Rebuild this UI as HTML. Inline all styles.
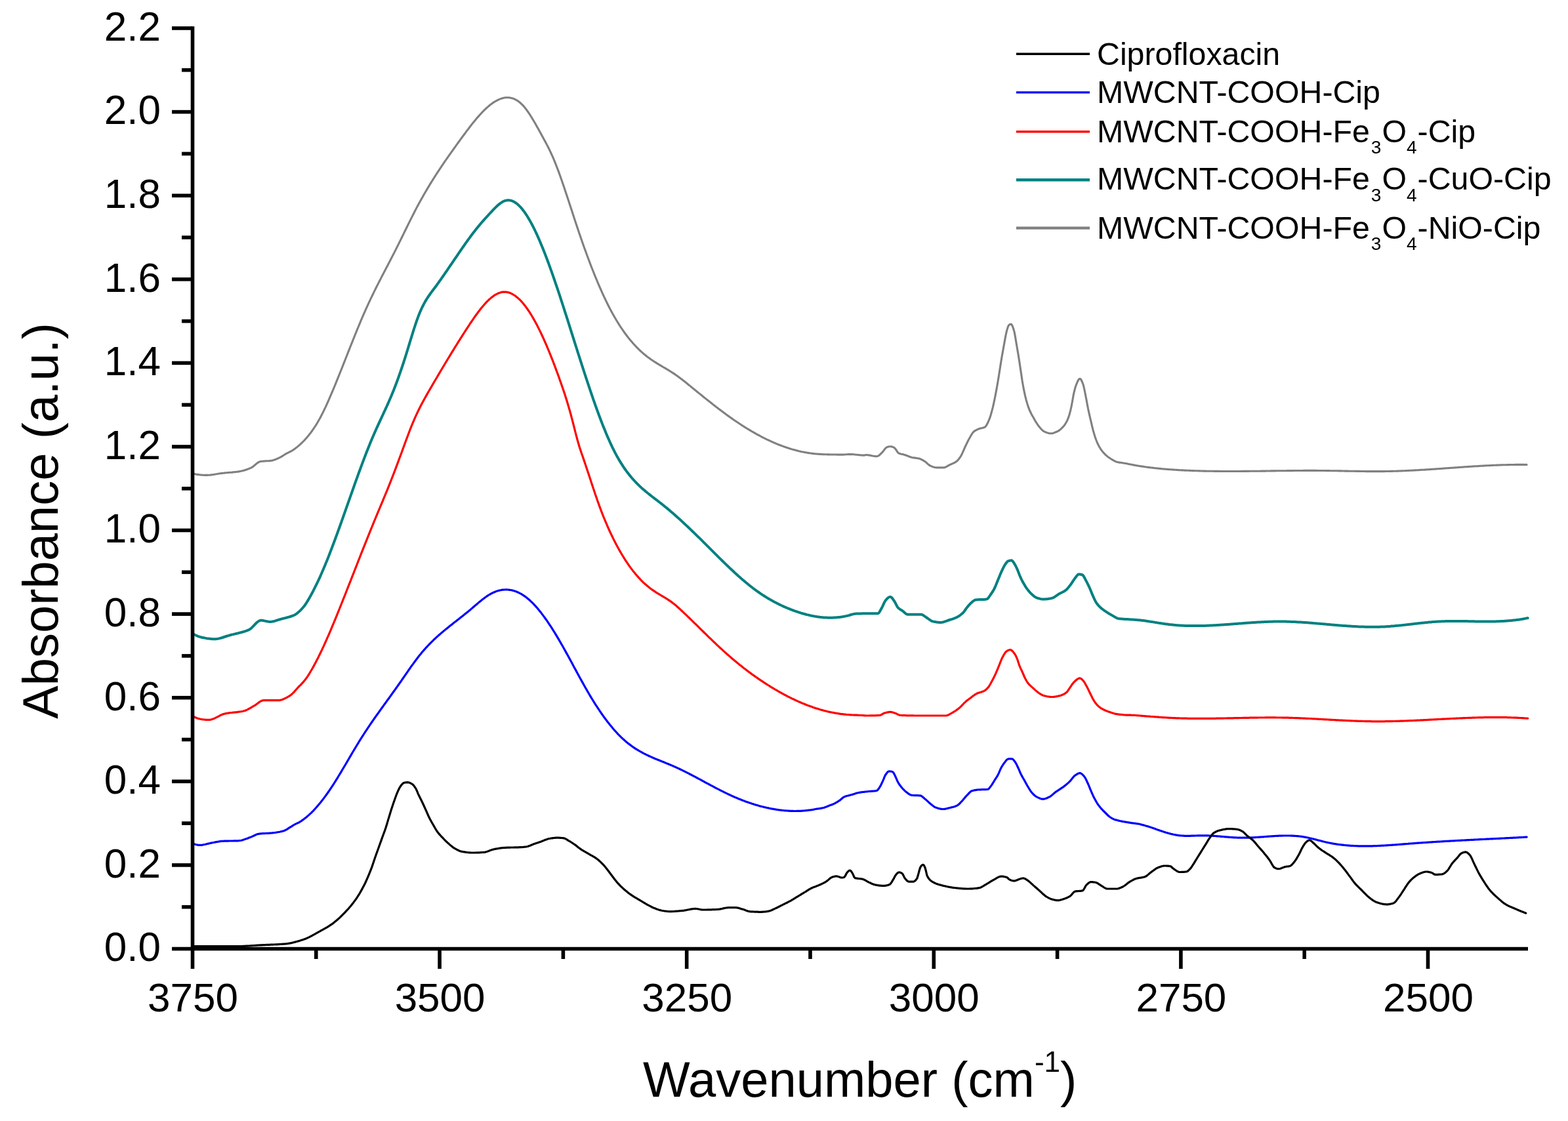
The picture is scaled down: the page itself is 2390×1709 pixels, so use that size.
<!DOCTYPE html>
<html><head><meta charset="utf-8"><title>FTIR spectra</title>
<style>
html,body{margin:0;padding:0;background:#fff;}
svg{display:block;}
text{font-family:'Liberation Sans', Arial, Helvetica, sans-serif;fill:#000;}
</style></head><body>
<svg width="2390" height="1709" viewBox="0 0 2390 1709">
<rect width="2390" height="1709" fill="#fff"/>
<g fill="none" stroke-linejoin="round" stroke-linecap="round">
<path d="M293.7,722.0L295.2,722.3 296.7,722.6 298.2,722.9 299.7,723.2 301.2,723.4 302.7,723.6 304.2,723.8 305.7,724.0 307.2,724.1 308.7,724.2 310.2,724.3 311.7,724.4 313.2,724.4 314.7,724.4 316.2,724.4 317.7,724.3 319.2,724.2 320.7,724.1 322.2,723.9 323.7,723.7 325.2,723.5 326.7,723.2 328.2,723.0 329.7,722.7 331.2,722.5 332.7,722.2 334.2,722.0 335.7,721.8 337.2,721.6 338.7,721.4 340.2,721.2 341.7,721.1 343.2,720.9 344.7,720.8 346.2,720.7 347.7,720.5 349.2,720.4 350.7,720.3 352.2,720.2 353.7,720.1 355.2,719.9 356.7,719.8 358.2,719.6 359.7,719.5 361.2,719.3 362.7,719.1 364.2,718.9 365.7,718.6 367.2,718.3 368.7,718.0 370.2,717.6 371.7,717.2 373.2,716.7 374.7,716.2 376.2,715.7 377.7,715.2 379.2,714.6 380.7,714.0 382.2,713.4 383.7,712.6 385.2,711.7 386.7,710.5 388.2,709.2 389.7,708.0 391.2,706.7 392.7,705.6 394.2,704.6 395.7,703.9 397.2,703.5 398.7,703.3 400.2,703.2 401.7,703.1 403.2,703.0 404.7,702.9 406.2,702.8 407.7,702.8 409.2,702.7 410.7,702.6 412.2,702.4 413.7,702.2 415.2,701.9 416.7,701.5 418.2,701.1 419.7,700.5 421.2,699.9 422.7,699.2 424.2,698.6 425.7,697.9 427.2,697.2 428.7,696.3 430.2,695.4 431.7,694.5 433.2,693.5 434.7,692.5 436.2,691.6 437.7,690.8 439.2,690.1 440.7,689.4 442.2,688.6 443.7,687.9 445.2,687.0 446.7,686.1 448.2,685.0 449.7,683.9 451.2,682.8 452.7,681.6 454.2,680.4 455.7,679.1 457.2,677.8 458.7,676.4 460.2,675.0 461.7,673.5 463.2,672.0 464.7,670.4 466.2,668.7 467.7,667.0 469.2,665.3 470.7,663.4 472.2,661.5 473.7,659.6 475.2,657.5 476.7,655.4 478.2,653.2 479.7,651.0 481.2,648.7 482.7,646.2 484.2,643.7 485.7,641.1 487.2,638.5 488.7,635.7 490.2,632.8 491.7,629.9 493.2,626.9 494.7,623.7 496.2,620.6 497.7,617.3 499.2,614.0 500.7,610.6 502.2,607.2 503.7,603.7 505.2,600.2 506.7,596.6 508.2,593.1 509.7,589.5 511.2,585.8 512.7,582.1 514.2,578.4 515.7,574.7 517.2,571.0 518.7,567.2 520.2,563.5 521.7,559.7 523.2,555.9 524.7,552.1 526.2,548.3 527.7,544.5 529.2,540.7 530.7,536.9 532.2,533.1 533.7,529.3 535.2,525.5 536.7,521.8 538.2,518.0 539.7,514.3 541.2,510.5 542.7,506.8 544.2,503.1 545.7,499.5 547.2,495.9 548.7,492.3 550.2,488.7 551.7,485.2 553.2,481.7 554.7,478.2 556.2,474.8 557.7,471.4 559.2,468.1 560.7,464.8 562.2,461.6 563.7,458.4 565.2,455.2 566.7,452.1 568.2,449.0 569.7,445.9 571.2,442.9 572.7,439.8 574.2,436.8 575.7,433.9 577.2,430.9 578.7,428.0 580.2,425.1 581.7,422.1 583.2,419.3 584.7,416.4 586.2,413.5 587.7,410.6 589.2,407.7 590.7,404.9 592.2,402.0 593.7,399.1 595.2,396.2 596.7,393.3 598.2,390.4 599.7,387.5 601.2,384.6 602.7,381.6 604.2,378.6 605.7,375.6 607.2,372.6 608.7,369.6 610.2,366.6 611.7,363.5 613.2,360.5 614.7,357.4 616.2,354.4 617.7,351.3 619.2,348.2 620.7,345.2 622.2,342.1 623.7,339.1 625.2,336.1 626.7,333.1 628.2,330.1 629.7,327.2 631.2,324.2 632.7,321.3 634.2,318.4 635.7,315.6 637.2,312.8 638.7,310.0 640.2,307.3 641.7,304.6 643.2,301.9 644.7,299.2 646.2,296.6 647.7,294.0 649.2,291.4 650.7,288.9 652.2,286.4 653.7,283.9 655.2,281.4 656.7,278.9 658.2,276.5 659.7,274.1 661.2,271.7 662.7,269.4 664.2,267.0 665.7,264.7 667.2,262.4 668.7,260.1 670.2,257.8 671.7,255.6 673.2,253.3 674.7,251.1 676.2,248.9 677.7,246.7 679.2,244.5 680.7,242.4 682.2,240.2 683.7,238.1 685.2,235.9 686.7,233.8 688.2,231.7 689.7,229.6 691.2,227.5 692.7,225.4 694.2,223.3 695.7,221.2 697.2,219.1 698.7,217.0 700.2,215.0 701.7,212.9 703.2,210.8 704.7,208.8 706.2,206.7 707.7,204.7 709.2,202.7 710.7,200.6 712.2,198.6 713.7,196.7 715.2,194.7 716.7,192.7 718.2,190.8 719.7,188.9 721.2,187.0 722.7,185.2 724.2,183.4 725.7,181.6 727.2,179.8 728.7,178.1 730.2,176.4 731.7,174.7 733.2,173.1 734.7,171.5 736.2,169.9 737.7,168.4 739.2,166.9 740.7,165.5 742.2,164.1 743.7,162.8 745.2,161.5 746.7,160.3 748.2,159.1 749.7,158.0 751.2,156.9 752.7,155.9 754.2,155.0 755.7,154.1 757.2,153.3 758.7,152.5 760.2,151.8 761.7,151.1 763.2,150.6 764.7,150.1 766.2,149.7 767.7,149.3 769.2,149.0 770.7,148.8 772.2,148.7 773.7,148.7 775.2,148.8 776.7,148.9 778.2,149.2 779.7,149.5 781.2,149.9 782.7,150.4 784.2,151.0 785.7,151.8 787.2,152.6 788.7,153.5 790.2,154.6 791.7,155.7 793.2,157.0 794.7,158.3 796.2,159.8 797.7,161.4 799.2,163.1 800.7,165.0 802.2,166.9 803.7,169.0 805.2,171.1 806.7,173.3 808.2,175.7 809.7,178.0 811.2,180.5 812.7,183.0 814.2,185.5 815.7,188.1 817.2,190.8 818.7,193.4 820.2,196.1 821.7,198.8 823.2,201.5 824.7,204.3 826.2,207.0 827.7,209.7 829.2,212.4 830.7,215.2 832.2,218.0 833.7,220.9 835.2,223.8 836.7,226.8 838.2,229.9 839.7,233.0 841.2,236.3 842.7,239.7 844.2,243.2 845.7,246.9 847.2,250.6 848.7,254.5 850.2,258.4 851.7,262.4 853.2,266.6 854.7,270.8 856.2,275.0 857.7,279.4 859.2,283.8 860.7,288.2 862.2,292.7 863.7,297.2 865.2,301.8 866.7,306.3 868.2,310.9 869.7,315.5 871.2,320.1 872.7,324.7 874.2,329.3 875.7,333.9 877.2,338.5 878.7,343.0 880.2,347.5 881.7,352.0 883.2,356.4 884.7,360.8 886.2,365.1 887.7,369.4 889.2,373.7 890.7,377.9 892.2,382.1 893.7,386.2 895.2,390.3 896.7,394.3 898.2,398.3 899.7,402.3 901.2,406.2 902.7,410.0 904.2,413.8 905.7,417.6 907.2,421.3 908.7,424.9 910.2,428.5 911.7,432.1 913.2,435.6 914.7,439.0 916.2,442.4 917.7,445.8 919.2,449.1 920.7,452.3 922.2,455.5 923.7,458.6 925.2,461.7 926.7,464.7 928.2,467.7 929.7,470.6 931.2,473.4 932.7,476.2 934.2,478.9 935.7,481.6 937.2,484.2 938.7,486.8 940.2,489.3 941.7,491.7 943.2,494.1 944.7,496.5 946.2,498.8 947.7,501.0 949.2,503.2 950.7,505.4 952.2,507.5 953.7,509.5 955.2,511.5 956.7,513.5 958.2,515.4 959.7,517.2 961.2,519.1 962.7,520.8 964.2,522.6 965.7,524.3 967.2,525.9 968.7,527.5 970.2,529.1 971.7,530.6 973.2,532.1 974.7,533.6 976.2,535.0 977.7,536.4 979.2,537.7 980.7,539.0 982.2,540.3 983.7,541.5 985.2,542.7 986.7,543.9 988.2,545.0 989.7,546.1 991.2,547.2 992.7,548.2 994.2,549.2 995.7,550.2 997.2,551.2 998.7,552.2 1000.2,553.1 1001.7,554.1 1003.2,555.0 1004.7,555.9 1006.2,556.8 1007.7,557.7 1009.2,558.6 1010.7,559.5 1012.2,560.3 1013.7,561.2 1015.2,562.1 1016.7,563.0 1018.2,563.9 1019.7,564.8 1021.2,565.8 1022.7,566.7 1024.2,567.7 1025.7,568.6 1027.2,569.6 1028.7,570.6 1030.2,571.7 1031.7,572.7 1033.2,573.8 1034.7,574.9 1036.2,576.0 1037.7,577.2 1039.2,578.3 1040.7,579.5 1042.2,580.6 1043.7,581.8 1045.2,583.0 1046.7,584.2 1048.2,585.5 1049.7,586.7 1051.2,587.9 1052.7,589.1 1054.2,590.3 1055.7,591.6 1057.2,592.8 1058.7,594.0 1060.2,595.2 1061.7,596.5 1063.2,597.7 1064.7,598.9 1066.2,600.1 1067.7,601.3 1069.2,602.5 1070.7,603.7 1072.2,605.0 1073.7,606.2 1075.2,607.4 1076.7,608.6 1078.2,609.8 1079.7,611.0 1081.2,612.1 1082.7,613.3 1084.2,614.5 1085.7,615.7 1087.2,616.9 1088.7,618.0 1090.2,619.2 1091.7,620.4 1093.2,621.5 1094.7,622.7 1096.2,623.8 1097.7,625.0 1099.2,626.1 1100.7,627.2 1102.2,628.3 1103.7,629.5 1105.2,630.6 1106.7,631.7 1108.2,632.8 1109.7,633.9 1111.2,634.9 1112.7,636.0 1114.2,637.1 1115.7,638.1 1117.2,639.2 1118.7,640.2 1120.2,641.3 1121.7,642.3 1123.2,643.3 1124.7,644.3 1126.2,645.3 1127.7,646.3 1129.2,647.3 1130.7,648.3 1132.2,649.2 1133.7,650.2 1135.2,651.1 1136.7,652.1 1138.2,653.0 1139.7,653.9 1141.2,654.8 1142.7,655.7 1144.2,656.6 1145.7,657.5 1147.2,658.4 1148.7,659.2 1150.2,660.1 1151.7,660.9 1153.2,661.8 1154.7,662.6 1156.2,663.4 1157.7,664.2 1159.2,665.0 1160.7,665.8 1162.2,666.6 1163.7,667.4 1165.2,668.1 1166.7,668.9 1168.2,669.6 1169.7,670.3 1171.2,671.0 1172.7,671.7 1174.2,672.4 1175.7,673.1 1177.2,673.8 1178.7,674.4 1180.2,675.1 1181.7,675.7 1183.2,676.4 1184.7,677.0 1186.2,677.6 1187.7,678.2 1189.2,678.8 1190.7,679.3 1192.2,679.9 1193.7,680.4 1195.2,681.0 1196.7,681.5 1198.2,682.0 1199.7,682.5 1201.2,683.0 1202.7,683.5 1204.2,684.0 1205.7,684.4 1207.2,684.9 1208.7,685.3 1210.2,685.7 1211.7,686.1 1213.2,686.5 1214.7,686.9 1216.2,687.3 1217.7,687.7 1219.2,688.0 1220.7,688.4 1222.2,688.7 1223.7,689.0 1225.2,689.3 1226.7,689.6 1228.2,689.8 1229.7,690.1 1231.2,690.4 1232.7,690.6 1234.2,690.8 1235.7,691.0 1237.2,691.2 1238.7,691.4 1240.2,691.6 1241.7,691.7 1243.2,691.9 1244.7,692.0 1246.2,692.1 1247.7,692.2 1249.2,692.4 1250.7,692.4 1252.2,692.5 1253.7,692.6 1255.2,692.7 1256.7,692.7 1258.2,692.8 1259.7,692.8 1261.2,692.9 1262.7,692.9 1264.2,692.9 1265.7,693.0 1267.2,693.0 1268.7,693.0 1270.2,693.0 1271.7,693.0 1273.2,693.0 1274.7,693.0 1276.2,693.1 1277.7,693.1 1279.2,693.1 1280.7,693.1 1282.2,693.1 1283.7,693.1 1285.2,693.1 1286.7,693.0 1288.2,693.0 1289.7,692.8 1291.2,692.7 1292.7,692.6 1294.2,692.6 1295.7,692.6 1297.2,692.6 1298.7,692.6 1300.2,692.7 1301.7,692.8 1303.2,693.0 1304.7,693.2 1306.2,693.3 1307.7,693.5 1309.2,693.6 1310.7,693.8 1312.2,693.9 1313.7,694.0 1315.2,694.1 1316.7,694.1 1318.2,694.0 1319.7,693.5 1321.2,693.5 1322.7,693.7 1324.2,693.9 1325.7,694.1 1327.2,694.4 1328.7,694.7 1330.2,695.0 1331.7,695.2 1333.2,695.5 1334.7,695.6 1336.2,695.7 1337.7,695.5 1339.2,694.7 1340.7,693.5 1342.2,692.1 1343.7,690.6 1345.2,689.1 1346.7,687.3 1348.2,685.2 1349.7,683.4 1351.2,682.1 1352.7,681.5 1354.2,681.1 1355.7,680.8 1357.2,680.7 1358.7,680.8 1360.2,681.3 1361.7,681.9 1363.2,682.7 1364.7,684.1 1366.2,686.4 1367.7,688.7 1369.2,690.5 1370.7,691.3 1372.2,691.8 1373.7,692.2 1375.2,692.5 1376.7,692.8 1378.2,693.2 1379.7,693.7 1381.2,694.2 1382.7,694.8 1384.2,695.4 1385.7,696.0 1387.2,696.5 1388.7,697.0 1390.2,697.4 1391.7,697.7 1393.2,697.9 1394.7,698.1 1396.2,698.3 1397.7,698.6 1399.2,698.8 1400.7,699.1 1402.2,699.5 1403.7,700.1 1405.2,700.8 1406.7,701.7 1408.2,702.6 1409.7,703.5 1411.2,704.6 1412.7,705.9 1414.2,707.3 1415.7,708.6 1417.2,709.6 1418.7,710.4 1420.2,711.0 1421.7,711.6 1423.2,712.1 1424.7,712.5 1426.2,712.8 1427.7,712.9 1429.2,712.9 1430.7,712.9 1432.2,712.9 1433.7,712.9 1435.2,712.9 1436.7,712.9 1438.2,712.9 1439.7,712.7 1441.2,712.2 1442.7,711.4 1444.2,710.6 1445.7,709.7 1447.2,708.9 1448.7,708.2 1450.2,707.5 1451.7,706.9 1453.2,706.2 1454.7,705.5 1456.2,704.6 1457.7,703.6 1459.2,702.4 1460.7,700.7 1462.2,698.8 1463.7,696.6 1465.2,694.2 1466.7,691.2 1468.2,687.8 1469.7,684.3 1471.2,681.0 1472.7,677.9 1474.2,674.8 1475.7,671.8 1477.2,668.9 1478.7,666.3 1480.2,663.7 1481.7,661.2 1483.2,659.1 1484.7,657.6 1486.2,656.6 1487.7,655.8 1489.2,655.0 1490.7,654.4 1492.2,653.8 1493.7,653.3 1495.2,652.9 1496.7,652.6 1498.2,652.2 1499.7,651.8 1501.2,651.1 1502.7,649.7 1504.2,647.4 1505.7,644.3 1507.2,640.9 1508.7,637.2 1510.2,632.5 1511.7,627.1 1513.2,621.3 1514.7,614.8 1516.2,607.7 1517.7,600.1 1519.2,592.1 1520.7,583.4 1522.2,574.5 1523.7,564.9 1525.2,555.3 1526.7,546.1 1528.2,537.5 1529.7,529.2 1531.2,520.9 1532.7,512.6 1534.2,505.6 1535.7,500.3 1537.2,496.3 1538.7,494.9 1540.2,494.2 1541.7,494.4 1543.2,497.0 1544.7,501.3 1546.2,506.4 1547.7,514.6 1549.2,523.8 1550.7,532.4 1552.2,541.3 1553.7,550.8 1555.2,560.7 1556.7,570.8 1558.2,580.9 1559.7,589.6 1561.2,597.1 1562.7,603.9 1564.2,609.8 1565.7,615.1 1567.2,619.9 1568.7,623.9 1570.2,627.3 1571.7,630.4 1573.2,633.2 1574.7,635.8 1576.2,638.5 1577.7,641.2 1579.2,643.7 1580.7,646.0 1582.2,648.2 1583.7,650.1 1585.2,652.0 1586.7,653.7 1588.2,655.3 1589.7,656.7 1591.2,657.7 1592.7,658.4 1594.2,659.0 1595.7,659.6 1597.2,660.1 1598.7,660.5 1600.2,660.7 1601.7,660.8 1603.2,660.7 1604.7,660.4 1606.2,660.0 1607.7,659.4 1609.2,658.8 1610.7,658.2 1612.2,657.5 1613.7,656.6 1615.2,655.6 1616.7,654.3 1618.2,652.9 1619.7,651.4 1621.2,649.7 1622.7,647.9 1624.2,645.6 1625.7,643.0 1627.2,639.9 1628.7,636.2 1630.2,631.4 1631.7,625.6 1633.2,619.0 1634.7,610.7 1636.2,602.2 1637.7,595.7 1639.2,590.0 1640.7,585.8 1642.2,582.3 1643.7,579.3 1645.2,577.5 1646.7,577.5 1648.2,579.5 1649.7,582.7 1651.2,586.7 1652.7,593.0 1654.2,600.5 1655.7,608.0 1657.2,616.2 1658.7,624.0 1660.2,630.9 1661.7,637.4 1663.2,643.6 1664.7,650.1 1666.2,656.2 1667.7,661.4 1669.2,666.2 1670.7,670.5 1672.2,674.3 1673.7,677.5 1675.2,680.4 1676.7,683.0 1678.2,685.3 1679.7,687.4 1681.2,689.3 1682.7,690.9 1684.2,692.5 1685.7,693.9 1687.2,695.2 1688.7,696.4 1690.2,697.5 1691.7,698.5 1693.2,699.5 1694.7,700.4 1696.2,701.3 1697.7,702.2 1699.2,703.0 1700.7,703.7 1702.2,704.2 1703.7,704.6 1705.2,704.9 1706.7,705.1 1708.2,705.3 1709.7,705.5 1711.2,705.7 1712.7,706.0 1714.2,706.2 1715.7,706.5 1717.2,706.8 1718.7,707.1 1720.2,707.4 1721.7,707.7 1723.2,708.0 1724.7,708.3 1726.2,708.6 1727.7,708.9 1729.2,709.1 1730.7,709.4 1732.2,709.7 1733.7,709.9 1735.2,710.2 1736.7,710.4 1738.2,710.7 1739.7,710.9 1741.2,711.1 1742.7,711.3 1744.2,711.6 1745.7,711.8 1747.2,712.0 1748.7,712.2 1750.2,712.4 1751.7,712.6 1753.2,712.8 1754.7,713.0 1756.2,713.1 1757.7,713.3 1759.2,713.5 1760.7,713.7 1762.2,713.8 1763.7,714.0 1765.2,714.1 1766.7,714.3 1768.2,714.4 1769.7,714.6 1771.2,714.7 1772.7,714.9 1774.2,715.0 1775.7,715.1 1777.2,715.3 1778.7,715.4 1780.2,715.5 1781.7,715.6 1783.2,715.7 1784.7,715.8 1786.2,715.9 1787.7,716.0 1789.2,716.1 1790.7,716.2 1792.2,716.3 1793.7,716.4 1795.2,716.5 1796.7,716.6 1798.2,716.7 1799.7,716.8 1801.2,716.9 1802.7,716.9 1804.2,717.0 1805.7,717.1 1807.2,717.1 1808.7,717.2 1810.2,717.3 1811.7,717.3 1813.2,717.4 1814.7,717.5 1816.2,717.5 1817.7,717.6 1819.2,717.6 1820.7,717.7 1822.2,717.7 1823.7,717.8 1825.2,717.8 1826.7,717.9 1828.2,717.9 1829.7,718.0 1831.2,718.0 1832.7,718.0 1834.2,718.1 1835.7,718.1 1837.2,718.1 1838.7,718.2 1840.2,718.2 1841.7,718.2 1843.2,718.3 1844.7,718.3 1846.2,718.3 1847.7,718.3 1849.2,718.3 1850.7,718.4 1852.2,718.4 1853.7,718.4 1855.2,718.4 1856.7,718.4 1858.2,718.4 1859.7,718.5 1861.2,718.5 1862.7,718.5 1864.2,718.5 1865.7,718.5 1867.2,718.5 1868.7,718.5 1870.2,718.5 1871.7,718.5 1873.2,718.5 1874.7,718.5 1876.2,718.5 1877.7,718.5 1879.2,718.5 1880.7,718.5 1882.2,718.5 1883.7,718.5 1885.2,718.5 1886.7,718.5 1888.2,718.5 1889.7,718.5 1891.2,718.5 1892.7,718.4 1894.2,718.4 1895.7,718.4 1897.2,718.4 1898.7,718.4 1900.2,718.4 1901.7,718.4 1903.2,718.4 1904.7,718.3 1906.2,718.3 1907.7,718.3 1909.2,718.3 1910.7,718.3 1912.2,718.3 1913.7,718.2 1915.2,718.2 1916.7,718.2 1918.2,718.2 1919.7,718.2 1921.2,718.2 1922.7,718.1 1924.2,718.1 1925.7,718.1 1927.2,718.1 1928.7,718.1 1930.2,718.0 1931.7,718.0 1933.2,718.0 1934.7,718.0 1936.2,718.0 1937.7,717.9 1939.2,717.9 1940.7,717.9 1942.2,717.9 1943.7,717.9 1945.2,717.8 1946.7,717.8 1948.2,717.8 1949.7,717.8 1951.2,717.8 1952.7,717.7 1954.2,717.7 1955.7,717.7 1957.2,717.7 1958.7,717.7 1960.2,717.7 1961.7,717.6 1963.2,717.6 1964.7,717.6 1966.2,717.6 1967.7,717.6 1969.2,717.6 1970.7,717.6 1972.2,717.5 1973.7,717.5 1975.2,717.5 1976.7,717.5 1978.2,717.5 1979.7,717.5 1981.2,717.5 1982.7,717.5 1984.2,717.5 1985.7,717.5 1987.2,717.4 1988.7,717.4 1990.2,717.4 1991.7,717.4 1993.2,717.4 1994.7,717.4 1996.2,717.4 1997.7,717.4 1999.2,717.4 2000.7,717.4 2002.2,717.4 2003.7,717.4 2005.2,717.4 2006.7,717.4 2008.2,717.5 2009.7,717.5 2011.2,717.5 2012.7,717.5 2014.2,717.5 2015.7,717.5 2017.2,717.5 2018.7,717.5 2020.2,717.6 2021.7,717.6 2023.2,717.6 2024.7,717.6 2026.2,717.6 2027.7,717.7 2029.2,717.7 2030.7,717.7 2032.2,717.7 2033.7,717.8 2035.2,717.8 2036.7,717.8 2038.2,717.8 2039.7,717.9 2041.2,717.9 2042.7,717.9 2044.2,717.9 2045.7,718.0 2047.2,718.0 2048.7,718.0 2050.2,718.1 2051.7,718.1 2053.2,718.1 2054.7,718.1 2056.2,718.2 2057.7,718.2 2059.2,718.2 2060.7,718.2 2062.2,718.3 2063.7,718.3 2065.2,718.3 2066.7,718.4 2068.2,718.4 2069.7,718.4 2071.2,718.4 2072.7,718.4 2074.2,718.5 2075.7,718.5 2077.2,718.5 2078.7,718.5 2080.2,718.5 2081.7,718.6 2083.2,718.6 2084.7,718.6 2086.2,718.6 2087.7,718.6 2089.2,718.6 2090.7,718.6 2092.2,718.6 2093.7,718.6 2095.2,718.6 2096.7,718.6 2098.2,718.6 2099.7,718.6 2101.2,718.6 2102.7,718.6 2104.2,718.6 2105.7,718.6 2107.2,718.6 2108.7,718.6 2110.2,718.6 2111.7,718.5 2113.2,718.5 2114.7,718.5 2116.2,718.5 2117.7,718.5 2119.2,718.4 2120.7,718.4 2122.2,718.4 2123.7,718.3 2125.2,718.3 2126.7,718.2 2128.2,718.2 2129.7,718.1 2131.2,718.1 2132.7,718.0 2134.2,718.0 2135.7,717.9 2137.2,717.9 2138.7,717.8 2140.2,717.7 2141.7,717.7 2143.2,717.6 2144.7,717.5 2146.2,717.5 2147.7,717.4 2149.2,717.3 2150.7,717.3 2152.2,717.2 2153.7,717.1 2155.2,717.0 2156.7,716.9 2158.2,716.9 2159.7,716.8 2161.2,716.7 2162.7,716.6 2164.2,716.5 2165.7,716.4 2167.2,716.3 2168.7,716.3 2170.2,716.2 2171.7,716.1 2173.2,716.0 2174.7,715.9 2176.2,715.8 2177.7,715.7 2179.2,715.6 2180.7,715.5 2182.2,715.4 2183.7,715.3 2185.2,715.2 2186.7,715.1 2188.2,715.0 2189.7,714.9 2191.2,714.8 2192.7,714.7 2194.2,714.6 2195.7,714.5 2197.2,714.4 2198.7,714.2 2200.2,714.1 2201.7,714.0 2203.2,713.9 2204.7,713.8 2206.2,713.7 2207.7,713.6 2209.2,713.5 2210.7,713.4 2212.2,713.3 2213.7,713.2 2215.2,713.1 2216.7,713.0 2218.2,712.9 2219.7,712.8 2221.2,712.7 2222.7,712.5 2224.2,712.4 2225.7,712.3 2227.2,712.2 2228.7,712.1 2230.2,712.0 2231.7,711.9 2233.2,711.8 2234.7,711.7 2236.2,711.6 2237.7,711.5 2239.2,711.4 2240.7,711.3 2242.2,711.2 2243.7,711.1 2245.2,711.0 2246.7,710.9 2248.2,710.8 2249.7,710.8 2251.2,710.7 2252.7,710.6 2254.2,710.5 2255.7,710.4 2257.2,710.3 2258.7,710.2 2260.2,710.1 2261.7,710.1 2263.2,710.0 2264.7,709.9 2266.2,709.8 2267.7,709.7 2269.2,709.7 2270.7,709.6 2272.2,709.5 2273.7,709.5 2275.2,709.4 2276.7,709.3 2278.2,709.3 2279.7,709.2 2281.2,709.1 2282.7,709.1 2284.2,709.0 2285.7,709.0 2287.2,708.9 2288.7,708.9 2290.2,708.8 2291.7,708.8 2293.2,708.7 2294.7,708.7 2296.2,708.7 2297.7,708.6 2299.2,708.6 2300.7,708.6 2302.2,708.5 2303.7,708.5 2305.2,708.5 2306.7,708.5 2308.2,708.5 2309.7,708.4 2311.2,708.4 2312.7,708.4 2314.2,708.4 2315.7,708.4 2317.2,708.4 2318.7,708.4 2320.2,708.4 2321.7,708.4 2323.2,708.4 2324.7,708.5 2326.2,708.4 2327.0,708.4" stroke="#808080" stroke-width="3.1"/>
<path d="M294.0,966.2L295.5,967.0 297.0,967.8 298.5,968.5 300.0,969.2 301.5,969.8 303.0,970.4 304.5,970.9 306.0,971.3 307.5,971.7 309.0,972.0 310.5,972.3 312.0,972.6 313.5,972.9 315.0,973.2 316.5,973.4 318.0,973.6 319.5,973.8 321.0,974.0 322.5,974.1 324.0,974.2 325.5,974.3 327.0,974.3 328.5,974.2 330.0,974.1 331.5,973.9 333.0,973.6 334.5,973.3 336.0,972.9 337.5,972.5 339.0,972.0 340.5,971.5 342.0,971.0 343.5,970.5 345.0,970.0 346.5,969.5 348.0,969.1 349.5,968.6 351.0,968.2 352.5,967.8 354.0,967.4 355.5,967.1 357.0,966.7 358.5,966.4 360.0,966.0 361.5,965.6 363.0,965.3 364.5,964.9 366.0,964.5 367.5,964.1 369.0,963.7 370.5,963.3 372.0,962.8 373.5,962.3 375.0,961.8 376.5,961.3 378.0,960.7 379.5,960.1 381.0,959.2 382.5,958.1 384.0,956.7 385.5,955.2 387.0,953.6 388.5,952.0 390.0,950.5 391.5,949.0 393.0,947.8 394.5,946.8 396.0,946.1 397.5,945.8 399.0,945.8 400.5,946.0 402.0,946.3 403.5,946.6 405.0,946.9 406.5,947.2 408.0,947.5 409.5,947.7 411.0,947.9 412.5,947.9 414.0,947.8 415.5,947.6 417.0,947.2 418.5,946.9 420.0,946.4 421.5,945.9 423.0,945.4 424.5,944.9 426.0,944.5 427.5,944.0 429.0,943.6 430.5,943.2 432.0,942.8 433.5,942.5 435.0,942.1 436.5,941.7 438.0,941.3 439.5,940.9 441.0,940.5 442.5,940.0 444.0,939.5 445.5,939.0 447.0,938.4 448.5,937.7 450.0,936.9 451.5,936.0 453.0,934.9 454.5,933.6 456.0,932.3 457.5,930.8 459.0,929.3 460.5,927.7 462.0,926.0 463.5,924.2 465.0,922.2 466.5,920.0 468.0,917.6 469.5,915.1 471.0,912.6 472.5,910.0 474.0,907.3 475.5,904.5 477.0,901.7 478.5,898.7 480.0,895.7 481.5,892.7 483.0,889.7 484.5,886.5 486.0,883.3 487.5,880.1 489.0,876.7 490.5,873.3 492.0,869.8 493.5,866.3 495.0,862.7 496.5,859.1 498.0,855.4 499.5,851.7 501.0,847.9 502.5,844.0 504.0,840.1 505.5,836.2 507.0,832.3 508.5,828.3 510.0,824.2 511.5,820.2 513.0,816.1 514.5,812.0 516.0,807.8 517.5,803.7 519.0,799.5 520.5,795.3 522.0,791.1 523.5,786.8 525.0,782.6 526.5,778.3 528.0,774.1 529.5,769.8 531.0,765.6 532.5,761.3 534.0,757.1 535.5,752.8 537.0,748.6 538.5,744.3 540.0,740.1 541.5,735.9 543.0,731.7 544.5,727.6 546.0,723.4 547.5,719.3 549.0,715.2 550.5,711.1 552.0,707.1 553.5,703.1 555.0,699.1 556.5,695.2 558.0,691.3 559.5,687.5 561.0,683.7 562.5,679.9 564.0,676.2 565.5,672.6 567.0,669.0 568.5,665.4 570.0,662.0 571.5,658.6 573.0,655.2 574.5,651.9 576.0,648.6 577.5,645.3 579.0,642.1 580.5,638.9 582.0,635.7 583.5,632.5 585.0,629.2 586.5,626.0 588.0,622.7 589.5,619.5 591.0,616.1 592.5,612.7 594.0,609.3 595.5,605.8 597.0,602.3 598.5,598.6 600.0,594.9 601.5,591.1 603.0,587.2 604.5,583.2 606.0,579.1 607.5,575.0 609.0,570.7 610.5,566.4 612.0,562.0 613.5,557.5 615.0,553.0 616.5,548.3 618.0,543.6 619.5,538.8 621.0,534.0 622.5,529.1 624.0,524.2 625.5,519.2 627.0,514.3 628.5,509.5 630.0,504.7 631.5,500.0 633.0,495.4 634.5,491.0 636.0,486.7 637.5,482.6 639.0,478.8 640.5,475.1 642.0,471.7 643.5,468.5 645.0,465.5 646.5,462.6 648.0,459.9 649.5,457.4 651.0,455.0 652.5,452.7 654.0,450.5 655.5,448.3 657.0,446.3 658.5,444.2 660.0,442.2 661.5,440.2 663.0,438.2 664.5,436.2 666.0,434.2 667.5,432.1 669.0,430.0 670.5,427.9 672.0,425.8 673.5,423.7 675.0,421.5 676.5,419.4 678.0,417.2 679.5,415.0 681.0,412.8 682.5,410.6 684.0,408.4 685.5,406.2 687.0,404.0 688.5,401.8 690.0,399.6 691.5,397.4 693.0,395.2 694.5,393.0 696.0,390.8 697.5,388.6 699.0,386.4 700.5,384.2 702.0,382.0 703.5,379.8 705.0,377.6 706.5,375.5 708.0,373.3 709.5,371.2 711.0,369.1 712.5,367.0 714.0,364.9 715.5,362.9 717.0,360.8 718.5,358.8 720.0,356.8 721.5,354.8 723.0,352.9 724.5,351.0 726.0,349.1 727.5,347.2 729.0,345.4 730.5,343.6 732.0,341.8 733.5,340.0 735.0,338.3 736.5,336.6 738.0,334.9 739.5,333.2 741.0,331.6 742.5,329.9 744.0,328.3 745.5,326.6 747.0,325.0 748.5,323.4 750.0,321.8 751.5,320.2 753.0,318.6 754.5,317.1 756.0,315.6 757.5,314.2 759.0,312.8 760.5,311.6 762.0,310.4 763.5,309.3 765.0,308.3 766.5,307.4 768.0,306.7 769.5,306.1 771.0,305.7 772.5,305.4 774.0,305.3 775.5,305.3 777.0,305.4 778.5,305.7 780.0,306.2 781.5,306.7 783.0,307.4 784.5,308.3 786.0,309.2 787.5,310.3 789.0,311.5 790.5,312.9 792.0,314.4 793.5,315.9 795.0,317.6 796.5,319.5 798.0,321.4 799.5,323.4 801.0,325.6 802.5,327.8 804.0,330.2 805.5,332.7 807.0,335.2 808.5,337.9 810.0,340.6 811.5,343.5 813.0,346.4 814.5,349.4 816.0,352.5 817.5,355.7 819.0,359.0 820.5,362.4 822.0,365.8 823.5,369.3 825.0,372.9 826.5,376.5 828.0,380.2 829.5,384.0 831.0,387.9 832.5,391.8 834.0,395.8 835.5,399.8 837.0,403.9 838.5,408.0 840.0,412.2 841.5,416.4 843.0,420.7 844.5,425.0 846.0,429.4 847.5,433.8 849.0,438.2 850.5,442.7 852.0,447.2 853.5,451.7 855.0,456.3 856.5,460.9 858.0,465.5 859.5,470.2 861.0,474.8 862.5,479.5 864.0,484.2 865.5,488.9 867.0,493.6 868.5,498.3 870.0,503.1 871.5,507.8 873.0,512.6 874.5,517.3 876.0,522.1 877.5,526.8 879.0,531.5 880.5,536.3 882.0,541.0 883.5,545.7 885.0,550.4 886.5,555.1 888.0,559.7 889.5,564.4 891.0,569.0 892.5,573.6 894.0,578.2 895.5,582.7 897.0,587.2 898.5,591.7 900.0,596.1 901.5,600.5 903.0,604.9 904.5,609.3 906.0,613.5 907.5,617.8 909.0,622.0 910.5,626.1 912.0,630.2 913.5,634.3 915.0,638.3 916.5,642.2 918.0,646.1 919.5,649.9 921.0,653.6 922.5,657.3 924.0,660.9 925.5,664.5 927.0,667.9 928.5,671.3 930.0,674.7 931.5,677.9 933.0,681.1 934.5,684.2 936.0,687.2 937.5,690.1 939.0,692.9 940.5,695.7 942.0,698.3 943.5,700.9 945.0,703.4 946.5,705.9 948.0,708.2 949.5,710.6 951.0,712.8 952.5,715.0 954.0,717.1 955.5,719.1 957.0,721.1 958.5,723.0 960.0,724.9 961.5,726.7 963.0,728.5 964.5,730.2 966.0,731.9 967.5,733.5 969.0,735.1 970.5,736.7 972.0,738.2 973.5,739.6 975.0,741.1 976.5,742.5 978.0,743.9 979.5,745.2 981.0,746.5 982.5,747.8 984.0,749.1 985.5,750.3 987.0,751.5 988.5,752.7 990.0,753.9 991.5,755.1 993.0,756.3 994.5,757.5 996.0,758.6 997.5,759.8 999.0,760.9 1000.5,762.1 1002.0,763.2 1003.5,764.4 1005.0,765.5 1006.5,766.7 1008.0,767.8 1009.5,769.0 1011.0,770.2 1012.5,771.4 1014.0,772.7 1015.5,773.9 1017.0,775.1 1018.5,776.4 1020.0,777.6 1021.5,778.9 1023.0,780.2 1024.5,781.5 1026.0,782.8 1027.5,784.1 1029.0,785.4 1030.5,786.7 1032.0,788.1 1033.5,789.4 1035.0,790.8 1036.5,792.1 1038.0,793.5 1039.5,794.9 1041.0,796.3 1042.5,797.7 1044.0,799.1 1045.5,800.5 1047.0,801.9 1048.5,803.3 1050.0,804.7 1051.5,806.1 1053.0,807.6 1054.5,809.0 1056.0,810.5 1057.5,811.9 1059.0,813.4 1060.5,814.8 1062.0,816.3 1063.5,817.8 1065.0,819.2 1066.5,820.7 1068.0,822.2 1069.5,823.7 1071.0,825.2 1072.5,826.7 1074.0,828.1 1075.5,829.6 1077.0,831.1 1078.5,832.6 1080.0,834.1 1081.5,835.6 1083.0,837.1 1084.5,838.6 1086.0,840.1 1087.5,841.6 1089.0,843.1 1090.5,844.6 1092.0,846.1 1093.5,847.6 1095.0,849.1 1096.5,850.6 1098.0,852.1 1099.5,853.5 1101.0,855.0 1102.5,856.5 1104.0,857.9 1105.5,859.4 1107.0,860.8 1108.5,862.3 1110.0,863.7 1111.5,865.2 1113.0,866.6 1114.5,868.0 1116.0,869.4 1117.5,870.8 1119.0,872.2 1120.5,873.6 1122.0,875.0 1123.5,876.3 1125.0,877.7 1126.5,879.0 1128.0,880.3 1129.5,881.7 1131.0,883.0 1132.5,884.3 1134.0,885.5 1135.5,886.8 1137.0,888.1 1138.5,889.3 1140.0,890.5 1141.5,891.8 1143.0,893.0 1144.5,894.1 1146.0,895.3 1147.5,896.5 1149.0,897.6 1150.5,898.7 1152.0,899.8 1153.5,900.9 1155.0,902.0 1156.5,903.0 1158.0,904.0 1159.5,905.1 1161.0,906.1 1162.5,907.1 1164.0,908.0 1165.5,909.0 1167.0,909.9 1168.5,910.9 1170.0,911.8 1171.5,912.7 1173.0,913.5 1174.5,914.4 1176.0,915.3 1177.5,916.1 1179.0,916.9 1180.5,917.7 1182.0,918.5 1183.5,919.3 1185.0,920.1 1186.5,920.8 1188.0,921.6 1189.5,922.3 1191.0,923.0 1192.5,923.7 1194.0,924.4 1195.5,925.1 1197.0,925.7 1198.5,926.4 1200.0,927.0 1201.5,927.6 1203.0,928.2 1204.5,928.8 1206.0,929.4 1207.5,930.0 1209.0,930.5 1210.5,931.1 1212.0,931.6 1213.5,932.1 1215.0,932.6 1216.5,933.1 1218.0,933.6 1219.5,934.1 1221.0,934.6 1222.5,935.0 1224.0,935.5 1225.5,935.9 1227.0,936.3 1228.5,936.7 1230.0,937.1 1231.5,937.4 1233.0,937.8 1234.5,938.1 1236.0,938.5 1237.5,938.8 1239.0,939.1 1240.5,939.4 1242.0,939.6 1243.5,939.9 1245.0,940.1 1246.5,940.4 1248.0,940.6 1249.5,940.8 1251.0,940.9 1252.5,941.1 1254.0,941.2 1255.5,941.4 1257.0,941.5 1258.5,941.5 1260.0,941.6 1261.5,941.7 1263.0,941.7 1264.5,941.7 1266.0,941.7 1267.5,941.7 1269.0,941.7 1270.5,941.6 1272.0,941.5 1273.5,941.4 1275.0,941.3 1276.5,941.2 1278.0,941.0 1279.5,940.9 1281.0,940.7 1282.5,940.5 1284.0,940.2 1285.5,940.0 1287.0,939.7 1288.5,939.4 1290.0,939.1 1291.5,938.7 1293.0,938.4 1294.5,938.0 1296.0,937.5 1297.5,937.0 1299.0,936.6 1300.5,936.2 1302.0,935.9 1303.5,935.7 1305.0,935.5 1306.5,935.5 1308.0,935.5 1309.5,935.5 1311.0,935.5 1312.5,935.4 1314.0,935.3 1315.5,935.3 1317.0,935.2 1318.5,935.2 1320.0,935.2 1321.5,935.2 1323.0,935.2 1324.5,935.2 1326.0,935.2 1327.5,935.2 1329.0,935.2 1330.5,935.2 1332.0,935.2 1333.5,935.2 1335.0,935.2 1336.5,935.2 1338.0,935.2 1339.5,934.4 1341.0,932.3 1342.5,929.5 1344.0,926.7 1345.5,923.9 1347.0,920.4 1348.5,917.3 1350.0,915.1 1351.5,913.4 1353.0,911.9 1354.5,910.7 1356.0,910.0 1357.5,909.9 1359.0,910.9 1360.5,912.6 1362.0,914.8 1363.5,917.0 1365.0,919.7 1366.5,922.8 1368.0,925.5 1369.5,927.1 1371.0,928.3 1372.5,929.3 1374.0,930.2 1375.5,931.2 1377.0,932.3 1378.5,933.7 1380.0,935.0 1381.5,936.1 1383.0,936.7 1384.5,936.7 1386.0,936.7 1387.5,936.7 1389.0,936.7 1390.5,936.7 1392.0,936.7 1393.5,936.7 1395.0,936.7 1396.5,936.7 1398.0,936.7 1399.5,936.7 1401.0,936.7 1402.5,936.7 1404.0,936.7 1405.5,937.1 1407.0,937.8 1408.5,938.8 1410.0,939.9 1411.5,941.0 1413.0,942.0 1414.5,943.0 1416.0,944.1 1417.5,945.2 1419.0,946.2 1420.5,947.0 1422.0,947.4 1423.5,947.7 1425.0,948.0 1426.5,948.3 1428.0,948.5 1429.5,948.7 1431.0,948.8 1432.5,948.9 1434.0,948.9 1435.5,948.8 1437.0,948.6 1438.5,948.2 1440.0,947.7 1441.5,947.2 1443.0,946.6 1444.5,946.0 1446.0,945.5 1447.5,945.0 1449.0,944.5 1450.5,944.1 1452.0,943.6 1453.5,943.1 1455.0,942.5 1456.5,941.9 1458.0,941.2 1459.5,940.4 1461.0,939.6 1462.5,938.6 1464.0,937.5 1465.5,936.3 1467.0,935.0 1468.5,933.6 1470.0,931.7 1471.5,929.5 1473.0,927.3 1474.5,925.4 1476.0,923.6 1477.5,921.9 1479.0,920.3 1480.5,918.9 1482.0,917.6 1483.5,916.3 1485.0,915.3 1486.5,914.6 1488.0,914.4 1489.5,914.3 1491.0,914.2 1492.5,914.1 1494.0,914.1 1495.5,914.0 1497.0,914.0 1498.5,913.9 1500.0,913.9 1501.5,913.7 1503.0,913.6 1504.5,913.3 1506.0,912.1 1507.5,910.1 1509.0,907.9 1510.5,905.7 1512.0,903.5 1513.5,901.2 1515.0,898.5 1516.5,895.5 1518.0,892.0 1519.5,888.2 1521.0,884.5 1522.5,880.9 1524.0,877.2 1525.5,873.6 1527.0,870.3 1528.5,867.1 1530.0,864.1 1531.5,861.5 1533.0,859.2 1534.5,857.2 1536.0,855.7 1537.5,855.1 1539.0,854.7 1540.5,854.4 1542.0,854.3 1543.5,855.3 1545.0,857.5 1546.5,859.9 1548.0,862.5 1549.5,865.6 1551.0,868.9 1552.5,872.7 1554.0,876.7 1555.5,880.1 1557.0,883.3 1558.5,886.3 1560.0,889.0 1561.5,891.6 1563.0,894.1 1564.5,896.3 1566.0,898.4 1567.5,900.4 1569.0,902.2 1570.5,903.8 1572.0,905.3 1573.5,906.7 1575.0,908.0 1576.5,909.3 1578.0,910.3 1579.5,911.1 1581.0,911.7 1582.5,912.1 1584.0,912.5 1585.5,912.9 1587.0,913.2 1588.5,913.4 1590.0,913.5 1591.5,913.5 1593.0,913.4 1594.5,913.3 1596.0,913.2 1597.5,913.0 1599.0,912.7 1600.5,912.5 1602.0,912.2 1603.5,911.9 1605.0,911.4 1606.5,910.6 1608.0,909.7 1609.5,908.7 1611.0,907.6 1612.5,906.5 1614.0,905.6 1615.5,904.8 1617.0,904.0 1618.5,903.3 1620.0,902.5 1621.5,901.7 1623.0,900.8 1624.5,899.7 1626.0,898.4 1627.5,896.8 1629.0,895.0 1630.5,893.1 1632.0,891.2 1633.5,889.0 1635.0,886.6 1636.5,884.3 1638.0,882.2 1639.5,880.2 1641.0,878.2 1642.5,876.5 1644.0,875.5 1645.5,875.4 1647.0,875.7 1648.5,876.0 1650.0,876.5 1651.5,878.0 1653.0,880.7 1654.5,883.7 1656.0,886.4 1657.5,889.3 1659.0,892.3 1660.5,895.5 1662.0,899.0 1663.5,902.7 1665.0,906.4 1666.5,909.8 1668.0,913.1 1669.5,916.2 1671.0,918.8 1672.5,920.9 1674.0,922.7 1675.5,924.4 1677.0,925.8 1678.5,927.2 1680.0,928.4 1681.5,929.5 1683.0,930.6 1684.5,931.6 1686.0,932.6 1687.5,933.6 1689.0,934.6 1690.5,935.5 1692.0,936.4 1693.5,937.3 1695.0,938.1 1696.5,939.0 1698.0,939.8 1699.5,940.8 1701.0,941.6 1702.5,942.4 1704.0,942.9 1705.5,943.2 1707.0,943.3 1708.5,943.5 1710.0,943.6 1711.5,943.7 1713.0,943.8 1714.5,943.9 1716.0,944.0 1717.5,944.1 1719.0,944.1 1720.5,944.2 1722.0,944.3 1723.5,944.4 1725.0,944.5 1726.5,944.6 1728.0,944.7 1729.5,944.8 1731.0,944.9 1732.5,945.0 1734.0,945.2 1735.5,945.3 1737.0,945.4 1738.5,945.6 1740.0,945.8 1741.5,946.0 1743.0,946.1 1744.5,946.3 1746.0,946.5 1747.5,946.8 1749.0,947.0 1750.5,947.2 1752.0,947.4 1753.5,947.7 1755.0,947.9 1756.5,948.1 1758.0,948.4 1759.5,948.6 1761.0,948.9 1762.5,949.1 1764.0,949.4 1765.5,949.6 1767.0,949.9 1768.5,950.1 1770.0,950.3 1771.5,950.6 1773.0,950.8 1774.5,951.0 1776.0,951.2 1777.5,951.4 1779.0,951.6 1780.5,951.8 1782.0,952.0 1783.5,952.2 1785.0,952.3 1786.5,952.5 1788.0,952.6 1789.5,952.8 1791.0,952.9 1792.5,953.1 1794.0,953.2 1795.5,953.3 1797.0,953.4 1798.5,953.5 1800.0,953.6 1801.5,953.7 1803.0,953.7 1804.5,953.8 1806.0,953.9 1807.5,953.9 1809.0,954.0 1810.5,954.0 1812.0,954.0 1813.5,954.1 1815.0,954.1 1816.5,954.1 1818.0,954.1 1819.5,954.1 1821.0,954.1 1822.5,954.1 1824.0,954.1 1825.5,954.1 1827.0,954.1 1828.5,954.1 1830.0,954.1 1831.5,954.0 1833.0,954.0 1834.5,953.9 1836.0,953.9 1837.5,953.9 1839.0,953.8 1840.5,953.7 1842.0,953.7 1843.5,953.6 1845.0,953.5 1846.5,953.5 1848.0,953.4 1849.5,953.3 1851.0,953.2 1852.5,953.2 1854.0,953.1 1855.5,953.0 1857.0,952.9 1858.5,952.8 1860.0,952.7 1861.5,952.6 1863.0,952.5 1864.5,952.4 1866.0,952.3 1867.5,952.2 1869.0,952.1 1870.5,952.0 1872.0,951.9 1873.5,951.8 1875.0,951.7 1876.5,951.5 1878.0,951.4 1879.5,951.3 1881.0,951.2 1882.5,951.1 1884.0,951.0 1885.5,950.9 1887.0,950.7 1888.5,950.6 1890.0,950.5 1891.5,950.4 1893.0,950.3 1894.5,950.2 1896.0,950.1 1897.5,950.0 1899.0,949.8 1900.5,949.7 1902.0,949.6 1903.5,949.5 1905.0,949.4 1906.5,949.3 1908.0,949.2 1909.5,949.1 1911.0,949.0 1912.5,948.9 1914.0,948.8 1915.5,948.7 1917.0,948.6 1918.5,948.6 1920.0,948.5 1921.5,948.4 1923.0,948.3 1924.5,948.2 1926.0,948.2 1927.5,948.1 1929.0,948.0 1930.5,948.0 1932.0,947.9 1933.5,947.8 1935.0,947.8 1936.5,947.7 1938.0,947.7 1939.5,947.7 1941.0,947.6 1942.5,947.6 1944.0,947.6 1945.5,947.6 1947.0,947.5 1948.5,947.5 1950.0,947.5 1951.5,947.5 1953.0,947.5 1954.5,947.5 1956.0,947.6 1957.5,947.6 1959.0,947.6 1960.5,947.6 1962.0,947.7 1963.5,947.7 1965.0,947.8 1966.5,947.8 1968.0,947.9 1969.5,947.9 1971.0,948.0 1972.5,948.1 1974.0,948.1 1975.5,948.2 1977.0,948.3 1978.5,948.4 1980.0,948.4 1981.5,948.5 1983.0,948.6 1984.5,948.7 1986.0,948.8 1987.5,948.9 1989.0,949.0 1990.5,949.1 1992.0,949.2 1993.5,949.3 1995.0,949.5 1996.5,949.6 1998.0,949.7 1999.5,949.8 2001.0,949.9 2002.5,950.1 2004.0,950.2 2005.5,950.3 2007.0,950.4 2008.5,950.6 2010.0,950.7 2011.5,950.8 2013.0,950.9 2014.5,951.1 2016.0,951.2 2017.5,951.3 2019.0,951.5 2020.5,951.6 2022.0,951.7 2023.5,951.9 2025.0,952.0 2026.5,952.1 2028.0,952.3 2029.5,952.4 2031.0,952.5 2032.5,952.7 2034.0,952.8 2035.5,952.9 2037.0,953.0 2038.5,953.2 2040.0,953.3 2041.5,953.4 2043.0,953.5 2044.5,953.7 2046.0,953.8 2047.5,953.9 2049.0,954.0 2050.5,954.1 2052.0,954.2 2053.5,954.3 2055.0,954.4 2056.5,954.5 2058.0,954.6 2059.5,954.7 2061.0,954.8 2062.5,954.9 2064.0,955.0 2065.5,955.1 2067.0,955.1 2068.5,955.2 2070.0,955.3 2071.5,955.4 2073.0,955.4 2074.5,955.5 2076.0,955.5 2077.5,955.6 2079.0,955.6 2080.5,955.7 2082.0,955.7 2083.5,955.7 2085.0,955.8 2086.5,955.8 2088.0,955.8 2089.5,955.8 2091.0,955.8 2092.5,955.8 2094.0,955.8 2095.5,955.8 2097.0,955.8 2098.5,955.8 2100.0,955.7 2101.5,955.7 2103.0,955.7 2104.5,955.6 2106.0,955.6 2107.5,955.5 2109.0,955.4 2110.5,955.4 2112.0,955.3 2113.5,955.2 2115.0,955.1 2116.5,955.0 2118.0,954.9 2119.5,954.8 2121.0,954.6 2122.5,954.5 2124.0,954.4 2125.5,954.3 2127.0,954.1 2128.5,954.0 2130.0,953.8 2131.5,953.7 2133.0,953.5 2134.5,953.4 2136.0,953.2 2137.5,953.1 2139.0,952.9 2140.5,952.7 2142.0,952.6 2143.5,952.4 2145.0,952.2 2146.5,952.0 2148.0,951.9 2149.5,951.7 2151.0,951.5 2152.5,951.4 2154.0,951.2 2155.5,951.0 2157.0,950.8 2158.5,950.7 2160.0,950.5 2161.5,950.3 2163.0,950.2 2164.5,950.0 2166.0,949.8 2167.5,949.7 2169.0,949.5 2170.5,949.4 2172.0,949.2 2173.5,949.1 2175.0,948.9 2176.5,948.8 2178.0,948.6 2179.5,948.5 2181.0,948.4 2182.5,948.2 2184.0,948.1 2185.5,948.0 2187.0,947.9 2188.5,947.8 2190.0,947.7 2191.5,947.6 2193.0,947.5 2194.5,947.5 2196.0,947.4 2197.5,947.3 2199.0,947.3 2200.5,947.2 2202.0,947.2 2203.5,947.1 2205.0,947.1 2206.5,947.0 2208.0,947.0 2209.5,947.0 2211.0,947.0 2212.5,947.0 2214.0,947.0 2215.5,947.0 2217.0,946.9 2218.5,947.0 2220.0,947.0 2221.5,947.0 2223.0,947.0 2224.5,947.0 2226.0,947.0 2227.5,947.0 2229.0,947.0 2230.5,947.1 2232.0,947.1 2233.5,947.1 2235.0,947.1 2236.5,947.1 2238.0,947.2 2239.5,947.2 2241.0,947.2 2242.5,947.3 2244.0,947.3 2245.5,947.3 2247.0,947.3 2248.5,947.4 2250.0,947.4 2251.5,947.4 2253.0,947.4 2254.5,947.4 2256.0,947.5 2257.5,947.5 2259.0,947.5 2260.5,947.5 2262.0,947.5 2263.5,947.5 2265.0,947.5 2266.5,947.5 2268.0,947.5 2269.5,947.5 2271.0,947.5 2272.5,947.5 2274.0,947.5 2275.5,947.5 2277.0,947.4 2278.5,947.4 2280.0,947.4 2281.5,947.3 2283.0,947.3 2284.5,947.2 2286.0,947.2 2287.5,947.1 2289.0,947.0 2290.5,946.9 2292.0,946.9 2293.5,946.8 2295.0,946.7 2296.5,946.6 2298.0,946.5 2299.5,946.3 2301.0,946.2 2302.5,946.1 2304.0,945.9 2305.5,945.8 2307.0,945.6 2308.5,945.4 2310.0,945.3 2311.5,945.1 2313.0,944.9 2314.5,944.7 2316.0,944.5 2317.5,944.2 2319.0,944.0 2320.5,943.7 2322.0,943.5 2323.5,943.2 2325.0,942.9 2326.5,942.6 2328.0,942.3 2328.7,942.2" stroke="#008080" stroke-width="4.0"/>
<path d="M294.0,1092.1L295.5,1092.8 297.0,1093.5 298.5,1094.1 300.0,1094.7 301.5,1095.2 303.0,1095.6 304.5,1096.0 306.0,1096.3 307.5,1096.6 309.0,1096.8 310.5,1097.0 312.0,1097.1 313.5,1097.3 315.0,1097.3 316.5,1097.4 318.0,1097.4 319.5,1097.4 321.0,1097.2 322.5,1096.8 324.0,1096.3 325.5,1095.8 327.0,1095.1 328.5,1094.4 330.0,1093.6 331.5,1092.9 333.0,1092.1 334.5,1091.3 336.0,1090.5 337.5,1089.8 339.0,1089.2 340.5,1088.6 342.0,1088.2 343.5,1087.9 345.0,1087.6 346.5,1087.3 348.0,1087.1 349.5,1086.9 351.0,1086.7 352.5,1086.5 354.0,1086.4 355.5,1086.2 357.0,1086.1 358.5,1085.9 360.0,1085.8 361.5,1085.6 363.0,1085.4 364.5,1085.2 366.0,1085.0 367.5,1084.8 369.0,1084.5 370.5,1084.2 372.0,1083.8 373.5,1083.4 375.0,1082.8 376.5,1082.1 378.0,1081.3 379.5,1080.5 381.0,1079.7 382.5,1078.8 384.0,1077.9 385.5,1077.0 387.0,1076.2 388.5,1075.3 390.0,1074.3 391.5,1073.2 393.0,1072.1 394.5,1070.9 396.0,1069.9 397.5,1069.0 399.0,1068.3 400.5,1067.8 402.0,1067.7 403.5,1067.7 405.0,1067.7 406.5,1067.7 408.0,1067.7 409.5,1067.7 411.0,1067.7 412.5,1067.7 414.0,1067.7 415.5,1067.7 417.0,1067.7 418.5,1067.7 420.0,1067.7 421.5,1067.7 423.0,1067.7 424.5,1067.7 426.0,1067.6 427.5,1067.3 429.0,1066.9 430.5,1066.4 432.0,1065.8 433.5,1065.2 435.0,1064.4 436.5,1063.7 438.0,1062.9 439.5,1062.0 441.0,1061.2 442.5,1060.2 444.0,1059.0 445.5,1057.6 447.0,1056.2 448.5,1054.6 450.0,1052.9 451.5,1051.2 453.0,1049.5 454.5,1047.8 456.0,1046.2 457.5,1044.8 459.0,1043.3 460.5,1041.7 462.0,1040.1 463.5,1038.3 465.0,1036.5 466.5,1034.5 468.0,1032.4 469.5,1030.2 471.0,1027.8 472.5,1025.3 474.0,1022.8 475.5,1020.2 477.0,1017.6 478.5,1014.9 480.0,1012.1 481.5,1009.2 483.0,1006.3 484.5,1003.4 486.0,1000.4 487.5,997.3 489.0,994.2 490.5,991.1 492.0,987.9 493.5,984.6 495.0,981.3 496.5,978.0 498.0,974.6 499.5,971.2 501.0,967.8 502.5,964.3 504.0,960.8 505.5,957.2 507.0,953.6 508.5,950.0 510.0,946.4 511.5,942.8 513.0,939.1 514.5,935.4 516.0,931.7 517.5,928.0 519.0,924.2 520.5,920.5 522.0,916.7 523.5,912.9 525.0,909.1 526.5,905.3 528.0,901.5 529.5,897.7 531.0,893.9 532.5,890.1 534.0,886.3 535.5,882.5 537.0,878.6 538.5,874.8 540.0,871.0 541.5,867.1 543.0,863.3 544.5,859.5 546.0,855.7 547.5,851.9 549.0,848.0 550.5,844.2 552.0,840.4 553.5,836.6 555.0,832.9 556.5,829.1 558.0,825.3 559.5,821.6 561.0,817.8 562.5,814.1 564.0,810.4 565.5,806.7 567.0,803.0 568.5,799.3 570.0,795.7 571.5,792.0 573.0,788.4 574.5,784.8 576.0,781.2 577.5,777.6 579.0,774.0 580.5,770.4 582.0,766.9 583.5,763.3 585.0,759.7 586.5,756.0 588.0,752.4 589.5,748.8 591.0,745.1 592.5,741.4 594.0,737.6 595.5,733.8 597.0,730.0 598.5,726.2 600.0,722.3 601.5,718.4 603.0,714.4 604.5,710.4 606.0,706.4 607.5,702.4 609.0,698.3 610.5,694.3 612.0,690.2 613.5,686.1 615.0,682.0 616.5,677.9 618.0,673.8 619.5,669.7 621.0,665.7 622.5,661.7 624.0,657.8 625.5,653.9 627.0,650.2 628.5,646.4 630.0,642.8 631.5,639.3 633.0,635.9 634.5,632.6 636.0,629.4 637.5,626.2 639.0,623.2 640.5,620.2 642.0,617.3 643.5,614.5 645.0,611.7 646.5,608.9 648.0,606.2 649.5,603.6 651.0,600.9 652.5,598.3 654.0,595.7 655.5,593.1 657.0,590.6 658.5,588.0 660.0,585.4 661.5,582.8 663.0,580.3 664.5,577.7 666.0,575.2 667.5,572.6 669.0,570.1 670.5,567.5 672.0,565.0 673.5,562.5 675.0,560.0 676.5,557.5 678.0,555.0 679.5,552.5 681.0,550.0 682.5,547.5 684.0,545.0 685.5,542.6 687.0,540.1 688.5,537.6 690.0,535.2 691.5,532.8 693.0,530.3 694.5,527.9 696.0,525.5 697.5,523.1 699.0,520.7 700.5,518.3 702.0,515.9 703.5,513.6 705.0,511.2 706.5,508.9 708.0,506.5 709.5,504.2 711.0,501.9 712.5,499.6 714.0,497.3 715.5,495.0 717.0,492.7 718.5,490.5 720.0,488.3 721.5,486.1 723.0,483.9 724.5,481.8 726.0,479.7 727.5,477.7 729.0,475.6 730.5,473.7 732.0,471.7 733.5,469.8 735.0,468.0 736.5,466.2 738.0,464.5 739.5,462.8 741.0,461.2 742.5,459.6 744.0,458.2 745.5,456.7 747.0,455.4 748.5,454.1 750.0,452.9 751.5,451.8 753.0,450.7 754.5,449.7 756.0,448.9 757.5,448.1 759.0,447.3 760.5,446.7 762.0,446.2 763.5,445.8 765.0,445.4 766.5,445.2 768.0,445.1 769.5,445.1 771.0,445.2 772.5,445.4 774.0,445.6 775.5,446.0 777.0,446.5 778.5,447.1 780.0,447.8 781.5,448.6 783.0,449.5 784.5,450.5 786.0,451.5 787.5,452.7 789.0,453.9 790.5,455.3 792.0,456.7 793.5,458.2 795.0,459.8 796.5,461.5 798.0,463.3 799.5,465.2 801.0,467.1 802.5,469.2 804.0,471.3 805.5,473.5 807.0,475.7 808.5,478.1 810.0,480.5 811.5,483.0 813.0,485.6 814.5,488.2 816.0,491.0 817.5,493.8 819.0,496.6 820.5,499.6 822.0,502.6 823.5,505.6 825.0,508.8 826.5,512.0 828.0,515.2 829.5,518.6 831.0,522.0 832.5,525.4 834.0,528.9 835.5,532.5 837.0,536.2 838.5,539.8 840.0,543.6 841.5,547.4 843.0,551.2 844.5,555.1 846.0,559.1 847.5,563.1 849.0,567.2 850.5,571.3 852.0,575.4 853.5,579.7 855.0,583.9 856.5,588.2 858.0,592.6 859.5,597.0 861.0,601.6 862.5,606.3 864.0,611.1 865.5,616.0 867.0,621.1 868.5,626.3 870.0,631.7 871.5,637.3 873.0,643.1 874.5,649.0 876.0,654.9 877.5,660.8 879.0,666.5 880.5,672.0 882.0,677.3 883.5,682.2 885.0,686.8 886.5,691.2 888.0,695.6 889.5,699.9 891.0,704.3 892.5,708.7 894.0,713.2 895.5,717.7 897.0,722.2 898.5,726.8 900.0,731.3 901.5,735.9 903.0,740.5 904.5,745.0 906.0,749.5 907.5,753.9 909.0,758.3 910.5,762.7 912.0,766.9 913.5,771.1 915.0,775.1 916.5,779.1 918.0,783.0 919.5,786.8 921.0,790.5 922.5,794.2 924.0,797.7 925.5,801.2 927.0,804.6 928.5,808.0 930.0,811.2 931.5,814.4 933.0,817.5 934.5,820.6 936.0,823.6 937.5,826.5 939.0,829.4 940.5,832.3 942.0,835.0 943.5,837.7 945.0,840.4 946.5,843.0 948.0,845.5 949.5,848.0 951.0,850.4 952.5,852.8 954.0,855.1 955.5,857.4 957.0,859.6 958.5,861.7 960.0,863.9 961.5,865.9 963.0,867.9 964.5,869.9 966.0,871.8 967.5,873.6 969.0,875.5 970.5,877.2 972.0,878.9 973.5,880.6 975.0,882.2 976.5,883.8 978.0,885.3 979.5,886.8 981.0,888.3 982.5,889.7 984.0,891.0 985.5,892.3 987.0,893.6 988.5,894.8 990.0,896.0 991.5,897.2 993.0,898.3 994.5,899.3 996.0,900.4 997.5,901.4 999.0,902.4 1000.5,903.3 1002.0,904.3 1003.5,905.2 1005.0,906.1 1006.5,907.0 1008.0,907.9 1009.5,908.8 1011.0,909.7 1012.5,910.6 1014.0,911.5 1015.5,912.4 1017.0,913.4 1018.5,914.3 1020.0,915.3 1021.5,916.4 1023.0,917.4 1024.5,918.5 1026.0,919.7 1027.5,920.8 1029.0,922.1 1030.5,923.3 1032.0,924.6 1033.5,926.0 1035.0,927.3 1036.5,928.7 1038.0,930.1 1039.5,931.5 1041.0,932.9 1042.5,934.3 1044.0,935.8 1045.5,937.2 1047.0,938.6 1048.5,940.1 1050.0,941.5 1051.5,943.0 1053.0,944.4 1054.5,945.9 1056.0,947.3 1057.5,948.8 1059.0,950.3 1060.5,951.7 1062.0,953.2 1063.5,954.7 1065.0,956.2 1066.5,957.6 1068.0,959.1 1069.5,960.6 1071.0,962.0 1072.5,963.5 1074.0,965.0 1075.5,966.4 1077.0,967.9 1078.5,969.4 1080.0,970.8 1081.5,972.3 1083.0,973.7 1084.5,975.2 1086.0,976.6 1087.5,978.1 1089.0,979.5 1090.5,980.9 1092.0,982.3 1093.5,983.8 1095.0,985.2 1096.5,986.6 1098.0,988.0 1099.5,989.3 1101.0,990.7 1102.5,992.1 1104.0,993.4 1105.5,994.8 1107.0,996.1 1108.5,997.5 1110.0,998.8 1111.5,1000.1 1113.0,1001.4 1114.5,1002.7 1116.0,1004.0 1117.5,1005.3 1119.0,1006.5 1120.5,1007.8 1122.0,1009.0 1123.5,1010.3 1125.0,1011.5 1126.5,1012.7 1128.0,1013.9 1129.5,1015.1 1131.0,1016.3 1132.5,1017.5 1134.0,1018.7 1135.5,1019.8 1137.0,1021.0 1138.5,1022.1 1140.0,1023.2 1141.5,1024.4 1143.0,1025.5 1144.5,1026.6 1146.0,1027.7 1147.5,1028.8 1149.0,1029.9 1150.5,1030.9 1152.0,1032.0 1153.5,1033.0 1155.0,1034.1 1156.5,1035.1 1158.0,1036.1 1159.5,1037.2 1161.0,1038.2 1162.5,1039.2 1164.0,1040.2 1165.5,1041.1 1167.0,1042.1 1168.5,1043.1 1170.0,1044.0 1171.5,1045.0 1173.0,1045.9 1174.5,1046.8 1176.0,1047.8 1177.5,1048.7 1179.0,1049.6 1180.5,1050.5 1182.0,1051.4 1183.5,1052.2 1185.0,1053.1 1186.5,1054.0 1188.0,1054.8 1189.5,1055.7 1191.0,1056.5 1192.5,1057.3 1194.0,1058.1 1195.5,1059.0 1197.0,1059.8 1198.5,1060.5 1200.0,1061.3 1201.5,1062.1 1203.0,1062.8 1204.5,1063.6 1206.0,1064.3 1207.5,1065.1 1209.0,1065.8 1210.5,1066.5 1212.0,1067.2 1213.5,1067.9 1215.0,1068.6 1216.5,1069.3 1218.0,1069.9 1219.5,1070.6 1221.0,1071.2 1222.5,1071.9 1224.0,1072.5 1225.5,1073.1 1227.0,1073.7 1228.5,1074.3 1230.0,1074.9 1231.5,1075.5 1233.0,1076.0 1234.5,1076.6 1236.0,1077.1 1237.5,1077.6 1239.0,1078.2 1240.5,1078.7 1242.0,1079.2 1243.5,1079.7 1245.0,1080.1 1246.5,1080.6 1248.0,1081.1 1249.5,1081.5 1251.0,1082.0 1252.5,1082.4 1254.0,1082.8 1255.5,1083.2 1257.0,1083.6 1258.5,1084.0 1260.0,1084.4 1261.5,1084.7 1263.0,1085.1 1264.5,1085.4 1266.0,1085.7 1267.5,1086.0 1269.0,1086.3 1270.5,1086.6 1272.0,1086.9 1273.5,1087.2 1275.0,1087.4 1276.5,1087.7 1278.0,1087.9 1279.5,1088.1 1281.0,1088.4 1282.5,1088.6 1284.0,1088.7 1285.5,1088.9 1287.0,1089.1 1288.5,1089.2 1290.0,1089.4 1291.5,1089.5 1293.0,1089.6 1294.5,1089.7 1296.0,1089.8 1297.5,1089.9 1299.0,1090.0 1300.5,1090.0 1302.0,1090.1 1303.5,1090.1 1305.0,1090.1 1306.5,1090.2 1308.0,1090.3 1309.5,1090.4 1311.0,1090.5 1312.5,1090.5 1314.0,1090.6 1315.5,1090.7 1317.0,1090.8 1318.5,1090.9 1320.0,1091.0 1321.5,1091.0 1323.0,1091.0 1324.5,1091.0 1326.0,1090.9 1327.5,1090.9 1329.0,1090.9 1330.5,1090.9 1332.0,1090.8 1333.5,1090.8 1335.0,1090.8 1336.5,1090.7 1338.0,1090.6 1339.5,1090.6 1341.0,1090.5 1342.5,1090.1 1344.0,1089.3 1345.5,1088.3 1347.0,1087.5 1348.5,1087.0 1350.0,1086.6 1351.5,1086.2 1353.0,1085.8 1354.5,1085.6 1356.0,1085.4 1357.5,1085.4 1359.0,1085.6 1360.5,1086.0 1362.0,1086.5 1363.5,1087.0 1365.0,1087.5 1366.5,1088.1 1368.0,1088.9 1369.5,1089.6 1371.0,1090.2 1372.5,1090.5 1374.0,1090.5 1375.5,1090.6 1377.0,1090.6 1378.5,1090.7 1380.0,1090.7 1381.5,1090.8 1383.0,1090.8 1384.5,1090.8 1386.0,1090.9 1387.5,1090.9 1389.0,1090.9 1390.5,1090.9 1392.0,1090.9 1393.5,1091.0 1395.0,1091.0 1396.5,1091.0 1398.0,1091.0 1399.5,1091.0 1401.0,1091.0 1402.5,1091.0 1404.0,1091.0 1405.5,1091.0 1407.0,1091.0 1408.5,1091.0 1410.0,1091.0 1411.5,1091.0 1413.0,1091.0 1414.5,1091.0 1416.0,1091.0 1417.5,1091.0 1419.0,1091.0 1420.5,1091.0 1422.0,1091.0 1423.5,1091.0 1425.0,1091.0 1426.5,1091.0 1428.0,1091.0 1429.5,1091.0 1431.0,1091.0 1432.5,1091.0 1434.0,1091.0 1435.5,1091.0 1437.0,1091.0 1438.5,1091.0 1440.0,1091.0 1441.5,1091.0 1443.0,1090.8 1444.5,1090.4 1446.0,1089.7 1447.5,1088.9 1449.0,1088.0 1450.5,1087.1 1452.0,1086.3 1453.5,1085.4 1455.0,1084.5 1456.5,1083.5 1458.0,1082.5 1459.5,1081.4 1461.0,1080.3 1462.5,1079.1 1464.0,1077.7 1465.5,1076.2 1467.0,1074.6 1468.5,1073.0 1470.0,1071.4 1471.5,1070.1 1473.0,1068.8 1474.5,1067.6 1476.0,1066.5 1477.5,1065.3 1479.0,1064.2 1480.5,1063.1 1482.0,1061.9 1483.5,1060.8 1485.0,1059.7 1486.5,1058.6 1488.0,1057.8 1489.5,1057.0 1491.0,1056.4 1492.5,1056.0 1494.0,1055.5 1495.5,1055.1 1497.0,1054.6 1498.5,1054.1 1500.0,1053.3 1501.5,1052.4 1503.0,1051.2 1504.5,1049.8 1506.0,1048.2 1507.5,1046.2 1509.0,1043.7 1510.5,1041.0 1512.0,1038.2 1513.5,1035.4 1515.0,1032.5 1516.5,1029.4 1518.0,1026.2 1519.5,1022.7 1521.0,1019.1 1522.5,1015.4 1524.0,1011.7 1525.5,1007.8 1527.0,1004.1 1528.5,1001.2 1530.0,998.5 1531.5,996.0 1533.0,994.0 1534.5,992.7 1536.0,991.8 1537.5,991.1 1539.0,990.7 1540.5,990.7 1542.0,991.5 1543.5,993.0 1545.0,994.7 1546.5,996.7 1548.0,999.1 1549.5,1002.3 1551.0,1006.0 1552.5,1010.8 1554.0,1015.2 1555.5,1018.6 1557.0,1021.7 1558.5,1025.0 1560.0,1028.5 1561.5,1032.0 1563.0,1035.0 1564.5,1037.8 1566.0,1040.3 1567.5,1042.2 1569.0,1043.8 1570.5,1045.2 1572.0,1046.6 1573.5,1047.9 1575.0,1049.3 1576.5,1050.7 1578.0,1052.1 1579.5,1053.4 1581.0,1054.6 1582.5,1055.7 1584.0,1056.8 1585.5,1057.8 1587.0,1058.7 1588.5,1059.6 1590.0,1060.2 1591.5,1060.6 1593.0,1061.0 1594.5,1061.3 1596.0,1061.7 1597.5,1062.0 1599.0,1062.2 1600.5,1062.4 1602.0,1062.5 1603.5,1062.5 1605.0,1062.5 1606.5,1062.3 1608.0,1062.1 1609.5,1061.9 1611.0,1061.6 1612.5,1061.3 1614.0,1060.9 1615.5,1060.6 1617.0,1060.2 1618.5,1059.6 1620.0,1059.0 1621.5,1058.3 1623.0,1057.4 1624.5,1056.4 1626.0,1055.3 1627.5,1053.4 1629.0,1051.1 1630.5,1048.8 1632.0,1046.6 1633.5,1044.4 1635.0,1042.3 1636.5,1040.4 1638.0,1039.0 1639.5,1037.5 1641.0,1036.2 1642.5,1035.1 1644.0,1034.3 1645.5,1033.9 1647.0,1034.2 1648.5,1035.2 1650.0,1036.6 1651.5,1038.1 1653.0,1040.3 1654.5,1043.0 1656.0,1045.7 1657.5,1048.6 1659.0,1051.6 1660.5,1054.7 1662.0,1057.7 1663.5,1060.8 1665.0,1063.9 1666.5,1066.7 1668.0,1069.1 1669.5,1071.3 1671.0,1073.3 1672.5,1075.0 1674.0,1076.4 1675.5,1077.7 1677.0,1078.8 1678.5,1079.8 1680.0,1080.7 1681.5,1081.5 1683.0,1082.3 1684.5,1083.0 1686.0,1083.6 1687.5,1084.2 1689.0,1084.8 1690.5,1085.3 1692.0,1085.8 1693.5,1086.3 1695.0,1086.8 1696.5,1087.3 1698.0,1087.7 1699.5,1088.1 1701.0,1088.4 1702.5,1088.7 1704.0,1088.9 1705.5,1089.1 1707.0,1089.3 1708.5,1089.4 1710.0,1089.6 1711.5,1089.7 1713.0,1089.9 1714.5,1090.0 1716.0,1090.1 1717.5,1090.1 1719.0,1090.1 1720.5,1090.2 1722.0,1090.2 1723.5,1090.2 1725.0,1090.3 1726.5,1090.3 1728.0,1090.4 1729.5,1090.4 1731.0,1090.5 1732.5,1090.7 1734.0,1090.8 1735.5,1090.9 1737.0,1091.0 1738.5,1091.1 1740.0,1091.3 1741.5,1091.4 1743.0,1091.5 1744.5,1091.6 1746.0,1091.8 1747.5,1091.9 1749.0,1092.0 1750.5,1092.1 1752.0,1092.2 1753.5,1092.4 1755.0,1092.5 1756.5,1092.6 1758.0,1092.7 1759.5,1092.8 1761.0,1092.9 1762.5,1093.0 1764.0,1093.1 1765.5,1093.2 1767.0,1093.4 1768.5,1093.5 1770.0,1093.6 1771.5,1093.7 1773.0,1093.8 1774.5,1093.8 1776.0,1093.9 1777.5,1094.0 1779.0,1094.1 1780.5,1094.2 1782.0,1094.3 1783.5,1094.4 1785.0,1094.4 1786.5,1094.5 1788.0,1094.6 1789.5,1094.6 1791.0,1094.7 1792.5,1094.8 1794.0,1094.8 1795.5,1094.9 1797.0,1094.9 1798.5,1095.0 1800.0,1095.0 1801.5,1095.1 1803.0,1095.1 1804.5,1095.1 1806.0,1095.2 1807.5,1095.2 1809.0,1095.2 1810.5,1095.3 1812.0,1095.3 1813.5,1095.3 1815.0,1095.3 1816.5,1095.4 1818.0,1095.4 1819.5,1095.4 1821.0,1095.4 1822.5,1095.4 1824.0,1095.4 1825.5,1095.4 1827.0,1095.4 1828.5,1095.4 1830.0,1095.4 1831.5,1095.4 1833.0,1095.4 1834.5,1095.4 1836.0,1095.4 1837.5,1095.4 1839.0,1095.4 1840.5,1095.4 1842.0,1095.4 1843.5,1095.4 1845.0,1095.3 1846.5,1095.3 1848.0,1095.3 1849.5,1095.3 1851.0,1095.3 1852.5,1095.3 1854.0,1095.2 1855.5,1095.2 1857.0,1095.2 1858.5,1095.2 1860.0,1095.1 1861.5,1095.1 1863.0,1095.1 1864.5,1095.1 1866.0,1095.0 1867.5,1095.0 1869.0,1095.0 1870.5,1094.9 1872.0,1094.9 1873.5,1094.9 1875.0,1094.8 1876.5,1094.8 1878.0,1094.8 1879.5,1094.8 1881.0,1094.7 1882.5,1094.7 1884.0,1094.7 1885.5,1094.6 1887.0,1094.6 1888.5,1094.6 1890.0,1094.5 1891.5,1094.5 1893.0,1094.5 1894.5,1094.4 1896.0,1094.4 1897.5,1094.4 1899.0,1094.4 1900.5,1094.3 1902.0,1094.3 1903.5,1094.3 1905.0,1094.2 1906.5,1094.2 1908.0,1094.2 1909.5,1094.2 1911.0,1094.1 1912.5,1094.1 1914.0,1094.1 1915.5,1094.1 1917.0,1094.1 1918.5,1094.0 1920.0,1094.0 1921.5,1094.0 1923.0,1094.0 1924.5,1094.0 1926.0,1094.0 1927.5,1094.0 1929.0,1093.9 1930.5,1093.9 1932.0,1093.9 1933.5,1093.9 1935.0,1093.9 1936.5,1093.9 1938.0,1093.9 1939.5,1093.9 1941.0,1093.9 1942.5,1093.9 1944.0,1093.9 1945.5,1094.0 1947.0,1094.0 1948.5,1094.0 1950.0,1094.0 1951.5,1094.0 1953.0,1094.0 1954.5,1094.1 1956.0,1094.1 1957.5,1094.1 1959.0,1094.1 1960.5,1094.2 1962.0,1094.2 1963.5,1094.2 1965.0,1094.3 1966.5,1094.3 1968.0,1094.4 1969.5,1094.4 1971.0,1094.5 1972.5,1094.5 1974.0,1094.6 1975.5,1094.6 1977.0,1094.7 1978.5,1094.7 1980.0,1094.8 1981.5,1094.9 1983.0,1094.9 1984.5,1095.0 1986.0,1095.1 1987.5,1095.1 1989.0,1095.2 1990.5,1095.3 1992.0,1095.3 1993.5,1095.4 1995.0,1095.5 1996.5,1095.5 1998.0,1095.6 1999.5,1095.7 2001.0,1095.8 2002.5,1095.9 2004.0,1095.9 2005.5,1096.0 2007.0,1096.1 2008.5,1096.2 2010.0,1096.3 2011.5,1096.3 2013.0,1096.4 2014.5,1096.5 2016.0,1096.6 2017.5,1096.7 2019.0,1096.8 2020.5,1096.8 2022.0,1096.9 2023.5,1097.0 2025.0,1097.1 2026.5,1097.2 2028.0,1097.3 2029.5,1097.3 2031.0,1097.4 2032.5,1097.5 2034.0,1097.6 2035.5,1097.7 2037.0,1097.8 2038.5,1097.8 2040.0,1097.9 2041.5,1098.0 2043.0,1098.1 2044.5,1098.1 2046.0,1098.2 2047.5,1098.3 2049.0,1098.4 2050.5,1098.4 2052.0,1098.5 2053.5,1098.6 2055.0,1098.7 2056.5,1098.7 2058.0,1098.8 2059.5,1098.9 2061.0,1098.9 2062.5,1099.0 2064.0,1099.0 2065.5,1099.1 2067.0,1099.1 2068.5,1099.2 2070.0,1099.3 2071.5,1099.3 2073.0,1099.4 2074.5,1099.4 2076.0,1099.4 2077.5,1099.5 2079.0,1099.5 2080.5,1099.6 2082.0,1099.6 2083.5,1099.6 2085.0,1099.7 2086.5,1099.7 2088.0,1099.7 2089.5,1099.7 2091.0,1099.8 2092.5,1099.8 2094.0,1099.8 2095.5,1099.8 2097.0,1099.8 2098.5,1099.8 2100.0,1099.8 2101.5,1099.8 2103.0,1099.8 2104.5,1099.8 2106.0,1099.8 2107.5,1099.8 2109.0,1099.8 2110.5,1099.8 2112.0,1099.7 2113.5,1099.7 2115.0,1099.7 2116.5,1099.7 2118.0,1099.7 2119.5,1099.6 2121.0,1099.6 2122.5,1099.6 2124.0,1099.5 2125.5,1099.5 2127.0,1099.5 2128.5,1099.4 2130.0,1099.4 2131.5,1099.3 2133.0,1099.3 2134.5,1099.2 2136.0,1099.2 2137.5,1099.1 2139.0,1099.1 2140.5,1099.0 2142.0,1099.0 2143.5,1098.9 2145.0,1098.9 2146.5,1098.8 2148.0,1098.7 2149.5,1098.7 2151.0,1098.6 2152.5,1098.6 2154.0,1098.5 2155.5,1098.4 2157.0,1098.4 2158.5,1098.3 2160.0,1098.2 2161.5,1098.1 2163.0,1098.1 2164.5,1098.0 2166.0,1097.9 2167.5,1097.9 2169.0,1097.8 2170.5,1097.7 2172.0,1097.6 2173.5,1097.6 2175.0,1097.5 2176.5,1097.4 2178.0,1097.3 2179.5,1097.2 2181.0,1097.2 2182.5,1097.1 2184.0,1097.0 2185.5,1096.9 2187.0,1096.9 2188.5,1096.8 2190.0,1096.7 2191.5,1096.6 2193.0,1096.5 2194.5,1096.5 2196.0,1096.4 2197.5,1096.3 2199.0,1096.2 2200.5,1096.2 2202.0,1096.1 2203.5,1096.0 2205.0,1095.9 2206.5,1095.8 2208.0,1095.8 2209.5,1095.7 2211.0,1095.6 2212.5,1095.5 2214.0,1095.5 2215.5,1095.4 2217.0,1095.3 2218.5,1095.3 2220.0,1095.2 2221.5,1095.1 2223.0,1095.0 2224.5,1095.0 2226.0,1094.9 2227.5,1094.8 2229.0,1094.8 2230.5,1094.7 2232.0,1094.7 2233.5,1094.6 2235.0,1094.5 2236.5,1094.5 2238.0,1094.4 2239.5,1094.4 2241.0,1094.3 2242.5,1094.3 2244.0,1094.2 2245.5,1094.2 2247.0,1094.1 2248.5,1094.1 2250.0,1094.0 2251.5,1094.0 2253.0,1093.9 2254.5,1093.9 2256.0,1093.9 2257.5,1093.8 2259.0,1093.8 2260.5,1093.8 2262.0,1093.7 2263.5,1093.7 2265.0,1093.7 2266.5,1093.7 2268.0,1093.6 2269.5,1093.6 2271.0,1093.6 2272.5,1093.6 2274.0,1093.6 2275.5,1093.6 2277.0,1093.6 2278.5,1093.6 2280.0,1093.6 2281.5,1093.6 2283.0,1093.6 2284.5,1093.6 2286.0,1093.6 2287.5,1093.6 2289.0,1093.6 2290.5,1093.6 2292.0,1093.7 2293.5,1093.7 2295.0,1093.7 2296.5,1093.7 2298.0,1093.8 2299.5,1093.8 2301.0,1093.9 2302.5,1093.9 2304.0,1094.0 2305.5,1094.0 2307.0,1094.1 2308.5,1094.1 2310.0,1094.2 2311.5,1094.2 2313.0,1094.3 2314.5,1094.4 2316.0,1094.5 2317.5,1094.5 2319.0,1094.6 2320.5,1094.7 2322.0,1094.8 2323.5,1094.9 2325.0,1095.0 2326.5,1095.1 2328.0,1095.2 2328.7,1095.2" stroke="#ff0000" stroke-width="3.2"/>
<path d="M293.7,1286.0L295.2,1286.5 296.7,1287.0 298.2,1287.5 299.7,1287.8 301.2,1288.1 302.7,1288.3 304.2,1288.4 305.7,1288.4 307.2,1288.3 308.7,1288.1 310.2,1287.8 311.7,1287.5 313.2,1287.2 314.7,1286.8 316.2,1286.4 317.7,1286.1 319.2,1285.7 320.7,1285.4 322.2,1285.1 323.7,1284.8 325.2,1284.5 326.7,1284.2 328.2,1283.9 329.7,1283.6 331.2,1283.3 332.7,1283.1 334.2,1282.8 335.7,1282.6 337.2,1282.4 338.7,1282.3 340.2,1282.3 341.7,1282.2 343.2,1282.2 344.7,1282.1 346.2,1282.1 347.7,1282.1 349.2,1282.0 350.7,1282.0 352.2,1282.0 353.7,1282.0 355.2,1282.0 356.7,1281.9 358.2,1281.9 359.7,1281.9 361.2,1281.8 362.7,1281.8 364.2,1281.7 365.7,1281.5 367.2,1281.3 368.7,1281.0 370.2,1280.6 371.7,1280.1 373.2,1279.6 374.7,1279.0 376.2,1278.5 377.7,1277.9 379.2,1277.3 380.7,1276.7 382.2,1276.2 383.7,1275.6 385.2,1274.9 386.7,1274.2 388.2,1273.5 389.7,1272.8 391.2,1272.1 392.7,1271.6 394.2,1271.3 395.7,1271.1 397.2,1270.9 398.7,1270.8 400.2,1270.7 401.7,1270.7 403.2,1270.6 404.7,1270.5 406.2,1270.4 407.7,1270.4 409.2,1270.3 410.7,1270.2 412.2,1270.1 413.7,1270.0 415.2,1269.8 416.7,1269.6 418.2,1269.5 419.7,1269.3 421.2,1269.0 422.7,1268.8 424.2,1268.5 425.7,1268.3 427.2,1268.0 428.7,1267.6 430.2,1267.3 431.7,1266.9 433.2,1266.4 434.7,1265.7 436.2,1265.0 437.7,1264.2 439.2,1263.2 440.7,1262.2 442.2,1261.2 443.7,1260.3 445.2,1259.4 446.7,1258.4 448.2,1257.5 449.7,1256.6 451.2,1255.9 452.7,1255.2 454.2,1254.6 455.7,1253.9 457.2,1252.9 458.7,1252.0 460.2,1250.9 461.7,1249.9 463.2,1248.8 464.7,1247.6 466.2,1246.4 467.7,1245.2 469.2,1243.9 470.7,1242.6 472.2,1241.2 473.7,1239.8 475.2,1238.3 476.7,1236.8 478.2,1235.3 479.7,1233.7 481.2,1232.0 482.7,1230.3 484.2,1228.6 485.7,1226.8 487.2,1225.0 488.7,1223.2 490.2,1221.3 491.7,1219.4 493.2,1217.4 494.7,1215.4 496.2,1213.4 497.7,1211.3 499.2,1209.2 500.7,1207.0 502.2,1204.9 503.7,1202.6 505.2,1200.4 506.7,1198.1 508.2,1195.8 509.7,1193.5 511.2,1191.1 512.7,1188.7 514.2,1186.3 515.7,1183.8 517.2,1181.3 518.7,1178.9 520.2,1176.4 521.7,1173.8 523.2,1171.3 524.7,1168.8 526.2,1166.2 527.7,1163.7 529.2,1161.1 530.7,1158.5 532.2,1156.0 533.7,1153.4 535.2,1150.9 536.7,1148.3 538.2,1145.8 539.7,1143.2 541.2,1140.7 542.7,1138.2 544.2,1135.7 545.7,1133.3 547.2,1130.8 548.7,1128.4 550.2,1126.0 551.7,1123.6 553.2,1121.3 554.7,1119.0 556.2,1116.7 557.7,1114.4 559.2,1112.1 560.7,1109.9 562.2,1107.6 563.7,1105.4 565.2,1103.2 566.7,1101.0 568.2,1098.9 569.7,1096.7 571.2,1094.5 572.7,1092.4 574.2,1090.3 575.7,1088.2 577.2,1086.1 578.7,1084.0 580.2,1081.9 581.7,1079.8 583.2,1077.7 584.7,1075.6 586.2,1073.5 587.7,1071.5 589.2,1069.4 590.7,1067.3 592.2,1065.3 593.7,1063.2 595.2,1061.1 596.7,1059.0 598.2,1056.9 599.7,1054.8 601.2,1052.7 602.7,1050.6 604.2,1048.5 605.7,1046.4 607.2,1044.3 608.7,1042.1 610.2,1040.0 611.7,1037.8 613.2,1035.6 614.7,1033.5 616.2,1031.3 617.7,1029.1 619.2,1027.0 620.7,1024.8 622.2,1022.6 623.7,1020.5 625.2,1018.4 626.7,1016.2 628.2,1014.1 629.7,1012.1 631.2,1010.0 632.7,1008.0 634.2,1006.0 635.7,1004.0 637.2,1002.0 638.7,1000.1 640.2,998.2 641.7,996.4 643.2,994.6 644.7,992.8 646.2,991.1 647.7,989.4 649.2,987.7 650.7,986.1 652.2,984.5 653.7,982.9 655.2,981.3 656.7,979.8 658.2,978.3 659.7,976.9 661.2,975.4 662.7,974.0 664.2,972.6 665.7,971.2 667.2,969.9 668.7,968.5 670.2,967.2 671.7,965.9 673.2,964.6 674.7,963.4 676.2,962.1 677.7,960.9 679.2,959.6 680.7,958.4 682.2,957.2 683.7,956.0 685.2,954.8 686.7,953.6 688.2,952.4 689.7,951.2 691.2,950.0 692.7,948.8 694.2,947.7 695.7,946.5 697.2,945.3 698.7,944.2 700.2,943.0 701.7,941.8 703.2,940.6 704.7,939.4 706.2,938.2 707.7,937.0 709.2,935.8 710.7,934.6 712.2,933.4 713.7,932.2 715.2,930.9 716.7,929.7 718.2,928.4 719.7,927.1 721.2,925.8 722.7,924.5 724.2,923.2 725.7,922.0 727.2,920.7 728.7,919.4 730.2,918.1 731.7,916.9 733.2,915.7 734.7,914.5 736.2,913.3 737.7,912.2 739.2,911.0 740.7,910.0 742.2,908.9 743.7,907.9 745.2,907.0 746.7,906.1 748.2,905.2 749.7,904.5 751.2,903.7 752.7,903.0 754.2,902.4 755.7,901.8 757.2,901.3 758.7,900.8 760.2,900.4 761.7,900.0 763.2,899.7 764.7,899.4 766.2,899.2 767.7,899.1 769.2,899.0 770.7,898.9 772.2,898.9 773.7,899.0 775.2,899.1 776.7,899.3 778.2,899.5 779.7,899.8 781.2,900.1 782.7,900.5 784.2,901.0 785.7,901.5 787.2,902.1 788.7,902.7 790.2,903.3 791.7,904.1 793.2,904.9 794.7,905.7 796.2,906.6 797.7,907.6 799.2,908.6 800.7,909.6 802.2,910.8 803.7,912.0 805.2,913.2 806.7,914.5 808.2,915.8 809.7,917.3 811.2,918.7 812.7,920.2 814.2,921.8 815.7,923.4 817.2,925.1 818.7,926.8 820.2,928.6 821.7,930.4 823.2,932.2 824.7,934.1 826.2,936.1 827.7,938.1 829.2,940.1 830.7,942.2 832.2,944.3 833.7,946.4 835.2,948.6 836.7,950.8 838.2,953.1 839.7,955.4 841.2,957.7 842.7,960.1 844.2,962.5 845.7,964.9 847.2,967.4 848.7,969.9 850.2,972.4 851.7,974.9 853.2,977.5 854.7,980.1 856.2,982.7 857.7,985.3 859.2,988.0 860.7,990.7 862.2,993.4 863.7,996.1 865.2,998.8 866.7,1001.6 868.2,1004.3 869.7,1007.1 871.2,1009.8 872.7,1012.6 874.2,1015.4 875.7,1018.2 877.2,1020.9 878.7,1023.7 880.2,1026.5 881.7,1029.2 883.2,1032.0 884.7,1034.7 886.2,1037.4 887.7,1040.1 889.2,1042.8 890.7,1045.5 892.2,1048.2 893.7,1050.8 895.2,1053.4 896.7,1056.0 898.2,1058.5 899.7,1061.1 901.2,1063.6 902.7,1066.0 904.2,1068.5 905.7,1070.9 907.2,1073.3 908.7,1075.6 910.2,1077.9 911.7,1080.2 913.2,1082.4 914.7,1084.6 916.2,1086.8 917.7,1089.0 919.2,1091.1 920.7,1093.2 922.2,1095.2 923.7,1097.3 925.2,1099.2 926.7,1101.2 928.2,1103.1 929.7,1105.0 931.2,1106.8 932.7,1108.6 934.2,1110.4 935.7,1112.2 937.2,1113.9 938.7,1115.5 940.2,1117.2 941.7,1118.8 943.2,1120.3 944.7,1121.8 946.2,1123.3 947.7,1124.8 949.2,1126.2 950.7,1127.5 952.2,1128.9 953.7,1130.2 955.2,1131.4 956.7,1132.7 958.2,1133.9 959.7,1135.0 961.2,1136.1 962.7,1137.2 964.2,1138.3 965.7,1139.3 967.2,1140.3 968.7,1141.3 970.2,1142.3 971.7,1143.2 973.2,1144.1 974.7,1145.0 976.2,1145.9 977.7,1146.7 979.2,1147.5 980.7,1148.3 982.2,1149.1 983.7,1149.8 985.2,1150.6 986.7,1151.3 988.2,1152.0 989.7,1152.7 991.2,1153.4 992.7,1154.1 994.2,1154.7 995.7,1155.4 997.2,1156.0 998.7,1156.7 1000.2,1157.3 1001.7,1157.9 1003.2,1158.5 1004.7,1159.1 1006.2,1159.7 1007.7,1160.3 1009.2,1160.9 1010.7,1161.5 1012.2,1162.1 1013.7,1162.7 1015.2,1163.4 1016.7,1164.0 1018.2,1164.6 1019.7,1165.2 1021.2,1165.8 1022.7,1166.4 1024.2,1167.1 1025.7,1167.7 1027.2,1168.4 1028.7,1169.0 1030.2,1169.7 1031.7,1170.4 1033.2,1171.1 1034.7,1171.8 1036.2,1172.5 1037.7,1173.2 1039.2,1173.9 1040.7,1174.7 1042.2,1175.4 1043.7,1176.2 1045.2,1176.9 1046.7,1177.7 1048.2,1178.4 1049.7,1179.2 1051.2,1180.0 1052.7,1180.8 1054.2,1181.5 1055.7,1182.3 1057.2,1183.1 1058.7,1183.9 1060.2,1184.7 1061.7,1185.5 1063.2,1186.3 1064.7,1187.1 1066.2,1187.9 1067.7,1188.7 1069.2,1189.5 1070.7,1190.3 1072.2,1191.2 1073.7,1192.0 1075.2,1192.8 1076.7,1193.6 1078.2,1194.4 1079.7,1195.2 1081.2,1196.0 1082.7,1196.8 1084.2,1197.6 1085.7,1198.4 1087.2,1199.2 1088.7,1200.0 1090.2,1200.8 1091.7,1201.6 1093.2,1202.4 1094.7,1203.1 1096.2,1203.9 1097.7,1204.7 1099.2,1205.4 1100.7,1206.2 1102.2,1206.9 1103.7,1207.7 1105.2,1208.4 1106.7,1209.1 1108.2,1209.9 1109.7,1210.6 1111.2,1211.3 1112.7,1212.0 1114.2,1212.7 1115.7,1213.4 1117.2,1214.0 1118.7,1214.7 1120.2,1215.4 1121.7,1216.0 1123.2,1216.6 1124.7,1217.3 1126.2,1217.9 1127.7,1218.5 1129.2,1219.1 1130.7,1219.7 1132.2,1220.3 1133.7,1220.8 1135.2,1221.4 1136.7,1221.9 1138.2,1222.5 1139.7,1223.0 1141.2,1223.5 1142.7,1224.1 1144.2,1224.6 1145.7,1225.1 1147.2,1225.5 1148.7,1226.0 1150.2,1226.5 1151.7,1226.9 1153.2,1227.4 1154.7,1227.8 1156.2,1228.2 1157.7,1228.7 1159.2,1229.1 1160.7,1229.5 1162.2,1229.8 1163.7,1230.2 1165.2,1230.6 1166.7,1230.9 1168.2,1231.3 1169.7,1231.6 1171.2,1231.9 1172.7,1232.3 1174.2,1232.6 1175.7,1232.9 1177.2,1233.1 1178.7,1233.4 1180.2,1233.7 1181.7,1233.9 1183.2,1234.2 1184.7,1234.4 1186.2,1234.6 1187.7,1234.8 1189.2,1235.0 1190.7,1235.2 1192.2,1235.4 1193.7,1235.5 1195.2,1235.7 1196.7,1235.8 1198.2,1235.9 1199.7,1236.0 1201.2,1236.1 1202.7,1236.2 1204.2,1236.3 1205.7,1236.3 1207.2,1236.4 1208.7,1236.4 1210.2,1236.5 1211.7,1236.5 1213.2,1236.5 1214.7,1236.4 1216.2,1236.4 1217.7,1236.4 1219.2,1236.3 1220.7,1236.3 1222.2,1236.2 1223.7,1236.1 1225.2,1236.0 1226.7,1235.8 1228.2,1235.7 1229.7,1235.6 1231.2,1235.4 1232.7,1235.2 1234.2,1235.0 1235.7,1234.8 1237.2,1234.6 1238.7,1234.3 1240.2,1234.1 1241.7,1233.8 1243.2,1233.5 1244.7,1233.2 1246.2,1233.0 1247.7,1232.8 1249.2,1232.6 1250.7,1232.4 1252.2,1232.1 1253.7,1231.8 1255.2,1231.5 1256.7,1231.1 1258.2,1230.6 1259.7,1229.9 1261.2,1229.3 1262.7,1228.7 1264.2,1228.1 1265.7,1227.6 1267.2,1227.0 1268.7,1226.4 1270.2,1225.8 1271.7,1225.1 1273.2,1224.3 1274.7,1223.4 1276.2,1222.6 1277.7,1221.6 1279.2,1220.7 1280.7,1219.6 1282.2,1218.3 1283.7,1217.0 1285.2,1215.8 1286.7,1214.9 1288.2,1214.2 1289.7,1213.7 1291.2,1213.3 1292.7,1213.0 1294.2,1212.6 1295.7,1212.2 1297.2,1211.8 1298.7,1211.4 1300.2,1210.9 1301.7,1210.4 1303.2,1209.9 1304.7,1209.4 1306.2,1209.0 1307.7,1208.7 1309.2,1208.4 1310.7,1208.2 1312.2,1207.9 1313.7,1207.7 1315.2,1207.5 1316.7,1207.3 1318.2,1207.2 1319.7,1207.0 1321.2,1206.8 1322.7,1206.7 1324.2,1206.5 1325.7,1206.4 1327.2,1206.3 1328.7,1206.2 1330.2,1206.1 1331.7,1206.0 1333.2,1205.9 1334.7,1205.7 1336.2,1205.5 1337.7,1204.5 1339.2,1202.6 1340.7,1200.3 1342.2,1197.9 1343.7,1194.8 1345.2,1191.6 1346.7,1188.1 1348.2,1184.3 1349.7,1181.3 1351.2,1179.2 1352.7,1177.3 1354.2,1176.1 1355.7,1175.9 1357.2,1176.0 1358.7,1176.2 1360.2,1176.5 1361.7,1177.7 1363.2,1180.4 1364.7,1183.5 1366.2,1186.8 1367.7,1190.4 1369.2,1193.3 1370.7,1195.7 1372.2,1197.8 1373.7,1199.7 1375.2,1201.5 1376.7,1203.2 1378.2,1204.7 1379.7,1206.1 1381.2,1207.4 1382.7,1208.5 1384.2,1209.6 1385.7,1210.7 1387.2,1211.5 1388.7,1212.1 1390.2,1212.4 1391.7,1212.5 1393.2,1212.6 1394.7,1212.6 1396.2,1212.6 1397.7,1212.7 1399.2,1212.7 1400.7,1212.8 1402.2,1212.9 1403.7,1213.1 1405.2,1214.0 1406.7,1215.2 1408.2,1216.5 1409.7,1217.9 1411.2,1219.1 1412.7,1220.4 1414.2,1221.8 1415.7,1223.2 1417.2,1224.5 1418.7,1225.8 1420.2,1227.0 1421.7,1228.2 1423.2,1229.3 1424.7,1230.3 1426.2,1231.1 1427.7,1231.6 1429.2,1232.1 1430.7,1232.5 1432.2,1232.9 1433.7,1233.2 1435.2,1233.4 1436.7,1233.5 1438.2,1233.5 1439.7,1233.4 1441.2,1233.1 1442.7,1232.8 1444.2,1232.4 1445.7,1232.0 1447.2,1231.6 1448.7,1231.3 1450.2,1230.9 1451.7,1230.5 1453.2,1230.2 1454.7,1229.7 1456.2,1229.2 1457.7,1228.6 1459.2,1227.9 1460.7,1226.9 1462.2,1225.5 1463.7,1224.0 1465.2,1222.3 1466.7,1220.8 1468.2,1219.1 1469.7,1217.3 1471.2,1215.4 1472.7,1213.7 1474.2,1212.2 1475.7,1210.6 1477.2,1208.9 1478.7,1207.5 1480.2,1206.3 1481.7,1205.6 1483.2,1205.2 1484.7,1204.9 1486.2,1204.6 1487.7,1204.4 1489.2,1204.2 1490.7,1204.0 1492.2,1203.9 1493.7,1203.8 1495.2,1203.8 1496.7,1203.7 1498.2,1203.7 1499.7,1203.7 1501.2,1203.6 1502.7,1203.6 1504.2,1203.5 1505.7,1203.3 1507.2,1202.4 1508.7,1200.6 1510.2,1198.6 1511.7,1196.6 1513.2,1194.2 1514.7,1191.7 1516.2,1189.2 1517.7,1186.9 1519.2,1184.6 1520.7,1182.1 1522.2,1179.1 1523.7,1175.5 1525.2,1172.1 1526.7,1169.3 1528.2,1166.8 1529.7,1164.5 1531.2,1162.6 1532.7,1160.6 1534.2,1158.7 1535.7,1157.4 1537.2,1156.9 1538.7,1156.9 1540.2,1156.9 1541.7,1156.9 1543.2,1157.1 1544.7,1158.3 1546.2,1160.2 1547.7,1162.3 1549.2,1164.9 1550.7,1168.0 1552.2,1171.2 1553.7,1174.7 1555.2,1178.3 1556.7,1181.4 1558.2,1184.1 1559.7,1186.7 1561.2,1189.3 1562.7,1192.1 1564.2,1194.8 1565.7,1197.5 1567.2,1200.0 1568.7,1202.5 1570.2,1204.9 1571.7,1207.1 1573.2,1208.9 1574.7,1210.5 1576.2,1212.0 1577.7,1213.2 1579.2,1214.3 1580.7,1215.1 1582.2,1215.9 1583.7,1216.6 1585.2,1217.2 1586.7,1217.7 1588.2,1218.1 1589.7,1218.2 1591.2,1218.1 1592.7,1217.8 1594.2,1217.3 1595.7,1216.7 1597.2,1216.0 1598.7,1215.3 1600.2,1214.6 1601.7,1213.6 1603.2,1212.4 1604.7,1211.1 1606.2,1209.8 1607.7,1208.5 1609.2,1207.4 1610.7,1206.3 1612.2,1205.3 1613.7,1204.4 1615.2,1203.4 1616.7,1202.4 1618.2,1201.4 1619.7,1200.4 1621.2,1199.2 1622.7,1198.1 1624.2,1196.9 1625.7,1195.7 1627.2,1194.4 1628.7,1193.1 1630.2,1191.7 1631.7,1190.1 1633.2,1188.2 1634.7,1186.3 1636.2,1184.4 1637.7,1182.9 1639.2,1181.8 1640.7,1180.8 1642.2,1179.8 1643.7,1179.1 1645.2,1178.7 1646.7,1178.7 1648.2,1179.4 1649.7,1180.6 1651.2,1182.1 1652.7,1183.8 1654.2,1186.1 1655.7,1189.0 1657.2,1192.2 1658.7,1195.5 1660.2,1199.1 1661.7,1202.9 1663.2,1206.4 1664.7,1209.9 1666.2,1213.2 1667.7,1216.3 1669.2,1219.1 1670.7,1221.8 1672.2,1224.3 1673.7,1226.6 1675.2,1228.6 1676.7,1230.5 1678.2,1232.3 1679.7,1233.9 1681.2,1235.5 1682.7,1237.0 1684.2,1238.5 1685.7,1240.0 1687.2,1241.5 1688.7,1243.0 1690.2,1244.3 1691.7,1245.5 1693.2,1246.5 1694.7,1247.4 1696.2,1248.2 1697.7,1248.9 1699.2,1249.4 1700.7,1249.9 1702.2,1250.3 1703.7,1250.7 1705.2,1251.1 1706.7,1251.5 1708.2,1251.8 1709.7,1252.1 1711.2,1252.4 1712.7,1252.7 1714.2,1252.9 1715.7,1253.2 1717.2,1253.4 1718.7,1253.7 1720.2,1253.9 1721.7,1254.2 1723.2,1254.4 1724.7,1254.6 1726.2,1254.8 1727.7,1255.0 1729.2,1255.2 1730.7,1255.4 1732.2,1255.6 1733.7,1255.8 1735.2,1256.0 1736.7,1256.3 1738.2,1256.7 1739.7,1257.1 1741.2,1257.5 1742.7,1257.9 1744.2,1258.3 1745.7,1258.7 1747.2,1259.2 1748.7,1259.6 1750.2,1260.1 1751.7,1260.6 1753.2,1261.1 1754.7,1261.6 1756.2,1262.1 1757.7,1262.6 1759.2,1263.1 1760.7,1263.6 1762.2,1264.2 1763.7,1264.7 1765.2,1265.2 1766.7,1265.7 1768.2,1266.2 1769.7,1266.7 1771.2,1267.3 1772.7,1267.7 1774.2,1268.2 1775.7,1268.7 1777.2,1269.2 1778.7,1269.6 1780.2,1270.1 1781.7,1270.5 1783.2,1270.9 1784.7,1271.3 1786.2,1271.6 1787.7,1272.0 1789.2,1272.3 1790.7,1272.6 1792.2,1272.9 1793.7,1273.2 1795.2,1273.4 1796.7,1273.6 1798.2,1273.8 1799.7,1273.9 1801.2,1274.0 1802.7,1274.1 1804.2,1274.2 1805.7,1274.3 1807.2,1274.3 1808.7,1274.3 1810.2,1274.3 1811.7,1274.3 1813.2,1274.3 1814.7,1274.3 1816.2,1274.2 1817.7,1274.2 1819.2,1274.1 1820.7,1274.1 1822.2,1274.0 1823.7,1274.0 1825.2,1273.9 1826.7,1273.9 1828.2,1273.8 1829.7,1273.8 1831.2,1273.8 1832.7,1273.8 1834.2,1273.8 1835.7,1273.8 1837.2,1273.8 1838.7,1273.8 1840.2,1273.9 1841.7,1273.9 1843.2,1274.0 1844.7,1274.1 1846.2,1274.1 1847.7,1274.2 1849.2,1274.3 1850.7,1274.4 1852.2,1274.5 1853.7,1274.6 1855.2,1274.8 1856.7,1274.9 1858.2,1275.0 1859.7,1275.1 1861.2,1275.3 1862.7,1275.4 1864.2,1275.5 1865.7,1275.6 1867.2,1275.8 1868.7,1275.9 1870.2,1276.0 1871.7,1276.1 1873.2,1276.3 1874.7,1276.4 1876.2,1276.5 1877.7,1276.6 1879.2,1276.7 1880.7,1276.8 1882.2,1276.9 1883.7,1276.9 1885.2,1277.0 1886.7,1277.1 1888.2,1277.1 1889.7,1277.2 1891.2,1277.2 1892.7,1277.2 1894.2,1277.2 1895.7,1277.2 1897.2,1277.2 1898.7,1277.2 1900.2,1277.2 1901.7,1277.1 1903.2,1277.1 1904.7,1277.0 1906.2,1277.0 1907.7,1276.9 1909.2,1276.8 1910.7,1276.8 1912.2,1276.7 1913.7,1276.6 1915.2,1276.5 1916.7,1276.4 1918.2,1276.3 1919.7,1276.2 1921.2,1276.1 1922.7,1276.0 1924.2,1275.9 1925.7,1275.8 1927.2,1275.7 1928.7,1275.5 1930.2,1275.4 1931.7,1275.3 1933.2,1275.2 1934.7,1275.1 1936.2,1275.0 1937.7,1274.9 1939.2,1274.8 1940.7,1274.7 1942.2,1274.6 1943.7,1274.5 1945.2,1274.4 1946.7,1274.4 1948.2,1274.3 1949.7,1274.2 1951.2,1274.2 1952.7,1274.1 1954.2,1274.1 1955.7,1274.0 1957.2,1274.0 1958.7,1274.0 1960.2,1274.0 1961.7,1274.0 1963.2,1274.0 1964.7,1274.0 1966.2,1274.0 1967.7,1274.1 1969.2,1274.1 1970.7,1274.2 1972.2,1274.3 1973.7,1274.4 1975.2,1274.5 1976.7,1274.6 1978.2,1274.7 1979.7,1274.9 1981.2,1275.0 1982.7,1275.2 1984.2,1275.4 1985.7,1275.6 1987.2,1275.9 1988.7,1276.1 1990.2,1276.4 1991.7,1276.7 1993.2,1277.0 1994.7,1277.3 1996.2,1277.7 1997.7,1278.0 1999.2,1278.4 2000.7,1278.7 2002.2,1279.1 2003.7,1279.5 2005.2,1279.9 2006.7,1280.3 2008.2,1280.7 2009.7,1281.1 2011.2,1281.4 2012.7,1281.8 2014.2,1282.2 2015.7,1282.6 2017.2,1283.0 2018.7,1283.3 2020.2,1283.7 2021.7,1284.0 2023.2,1284.4 2024.7,1284.7 2026.2,1285.0 2027.7,1285.3 2029.2,1285.6 2030.7,1285.9 2032.2,1286.1 2033.7,1286.4 2035.2,1286.6 2036.7,1286.9 2038.2,1287.1 2039.7,1287.3 2041.2,1287.5 2042.7,1287.7 2044.2,1287.9 2045.7,1288.1 2047.2,1288.2 2048.7,1288.4 2050.2,1288.5 2051.7,1288.7 2053.2,1288.8 2054.7,1288.9 2056.2,1289.1 2057.7,1289.2 2059.2,1289.3 2060.7,1289.4 2062.2,1289.4 2063.7,1289.5 2065.2,1289.6 2066.7,1289.7 2068.2,1289.7 2069.7,1289.8 2071.2,1289.8 2072.7,1289.8 2074.2,1289.9 2075.7,1289.9 2077.2,1289.9 2078.7,1289.9 2080.2,1289.9 2081.7,1289.9 2083.2,1289.9 2084.7,1289.9 2086.2,1289.9 2087.7,1289.9 2089.2,1289.8 2090.7,1289.8 2092.2,1289.8 2093.7,1289.7 2095.2,1289.7 2096.7,1289.6 2098.2,1289.6 2099.7,1289.5 2101.2,1289.4 2102.7,1289.4 2104.2,1289.3 2105.7,1289.2 2107.2,1289.1 2108.7,1289.1 2110.2,1289.0 2111.7,1288.9 2113.2,1288.8 2114.7,1288.7 2116.2,1288.6 2117.7,1288.5 2119.2,1288.4 2120.7,1288.3 2122.2,1288.2 2123.7,1288.1 2125.2,1288.0 2126.7,1287.9 2128.2,1287.8 2129.7,1287.6 2131.2,1287.5 2132.7,1287.4 2134.2,1287.3 2135.7,1287.2 2137.2,1287.1 2138.7,1286.9 2140.2,1286.8 2141.7,1286.7 2143.2,1286.6 2144.7,1286.5 2146.2,1286.4 2147.7,1286.2 2149.2,1286.1 2150.7,1286.0 2152.2,1285.9 2153.7,1285.8 2155.2,1285.7 2156.7,1285.6 2158.2,1285.4 2159.7,1285.3 2161.2,1285.2 2162.7,1285.1 2164.2,1285.0 2165.7,1284.9 2167.2,1284.8 2168.7,1284.7 2170.2,1284.6 2171.7,1284.5 2173.2,1284.4 2174.7,1284.3 2176.2,1284.2 2177.7,1284.1 2179.2,1284.0 2180.7,1283.9 2182.2,1283.8 2183.7,1283.7 2185.2,1283.6 2186.7,1283.5 2188.2,1283.4 2189.7,1283.3 2191.2,1283.2 2192.7,1283.1 2194.2,1283.1 2195.7,1283.0 2197.2,1282.9 2198.7,1282.8 2200.2,1282.7 2201.7,1282.6 2203.2,1282.5 2204.7,1282.4 2206.2,1282.3 2207.7,1282.3 2209.2,1282.2 2210.7,1282.1 2212.2,1282.0 2213.7,1281.9 2215.2,1281.8 2216.7,1281.8 2218.2,1281.7 2219.7,1281.6 2221.2,1281.5 2222.7,1281.4 2224.2,1281.4 2225.7,1281.3 2227.2,1281.2 2228.7,1281.1 2230.2,1281.0 2231.7,1281.0 2233.2,1280.9 2234.7,1280.8 2236.2,1280.7 2237.7,1280.7 2239.2,1280.6 2240.7,1280.5 2242.2,1280.4 2243.7,1280.3 2245.2,1280.3 2246.7,1280.2 2248.2,1280.1 2249.7,1280.0 2251.2,1280.0 2252.7,1279.9 2254.2,1279.8 2255.7,1279.7 2257.2,1279.7 2258.7,1279.6 2260.2,1279.5 2261.7,1279.5 2263.2,1279.4 2264.7,1279.3 2266.2,1279.2 2267.7,1279.2 2269.2,1279.1 2270.7,1279.0 2272.2,1278.9 2273.7,1278.9 2275.2,1278.8 2276.7,1278.7 2278.2,1278.6 2279.7,1278.6 2281.2,1278.5 2282.7,1278.4 2284.2,1278.3 2285.7,1278.3 2287.2,1278.2 2288.7,1278.1 2290.2,1278.0 2291.7,1278.0 2293.2,1277.9 2294.7,1277.8 2296.2,1277.7 2297.7,1277.7 2299.2,1277.6 2300.7,1277.5 2302.2,1277.4 2303.7,1277.4 2305.2,1277.3 2306.7,1277.2 2308.2,1277.1 2309.7,1277.1 2311.2,1277.0 2312.7,1276.9 2314.2,1276.8 2315.7,1276.7 2317.2,1276.7 2318.7,1276.6 2320.2,1276.5 2321.7,1276.4 2323.2,1276.3 2324.7,1276.2 2326.2,1276.2 2327.1,1276.1" stroke="#0000ff" stroke-width="3.2"/>
<path d="M295.4,1442.6L296.9,1442.6 298.4,1442.6 299.9,1442.6 301.4,1442.6 302.9,1442.6 304.4,1442.6 305.9,1442.6 307.4,1442.6 308.9,1442.6 310.4,1442.6 311.9,1442.6 313.4,1442.6 314.9,1442.6 316.4,1442.6 317.9,1442.6 319.4,1442.6 320.9,1442.6 322.4,1442.6 323.9,1442.6 325.4,1442.6 326.9,1442.6 328.4,1442.6 329.9,1442.6 331.4,1442.6 332.9,1442.6 334.4,1442.6 335.9,1442.6 337.4,1442.6 338.9,1442.6 340.4,1442.6 341.9,1442.6 343.4,1442.6 344.9,1442.6 346.4,1442.6 347.9,1442.6 349.4,1442.6 350.9,1442.6 352.4,1442.6 353.9,1442.6 355.4,1442.6 356.9,1442.6 358.4,1442.6 359.9,1442.6 361.4,1442.6 362.9,1442.6 364.4,1442.6 365.9,1442.6 367.4,1442.5 368.9,1442.5 370.4,1442.4 371.9,1442.4 373.4,1442.3 374.9,1442.2 376.4,1442.2 377.9,1442.1 379.4,1442.0 380.9,1441.9 382.4,1441.8 383.9,1441.7 385.4,1441.6 386.9,1441.5 388.4,1441.4 389.9,1441.3 391.4,1441.2 392.9,1441.1 394.4,1441.0 395.9,1440.9 397.4,1440.8 398.9,1440.8 400.4,1440.7 401.9,1440.6 403.4,1440.6 404.9,1440.5 406.4,1440.4 407.9,1440.4 409.4,1440.3 410.9,1440.3 412.4,1440.2 413.9,1440.2 415.4,1440.1 416.9,1440.0 418.4,1440.0 419.9,1439.9 421.4,1439.8 422.9,1439.8 424.4,1439.7 425.9,1439.6 427.4,1439.5 428.9,1439.4 430.4,1439.3 431.9,1439.2 433.4,1439.1 434.9,1439.0 436.4,1438.8 437.9,1438.6 439.4,1438.4 440.9,1438.1 442.4,1437.9 443.9,1437.6 445.4,1437.2 446.9,1436.9 448.4,1436.5 449.9,1436.1 451.4,1435.7 452.9,1435.3 454.4,1434.9 455.9,1434.4 457.4,1434.0 458.9,1433.5 460.4,1433.0 461.9,1432.6 463.4,1432.1 464.9,1431.5 466.4,1430.9 467.9,1430.2 469.4,1429.6 470.9,1428.9 472.4,1428.1 473.9,1427.3 475.4,1426.6 476.9,1425.7 478.4,1424.9 479.9,1424.1 481.4,1423.2 482.9,1422.4 484.4,1421.5 485.9,1420.7 487.4,1419.9 488.9,1419.0 490.4,1418.2 491.9,1417.4 493.4,1416.5 494.9,1415.7 496.4,1414.8 497.9,1414.0 499.4,1413.1 500.9,1412.1 502.4,1411.2 503.9,1410.2 505.4,1409.2 506.9,1408.1 508.4,1407.0 509.9,1405.8 511.4,1404.6 512.9,1403.3 514.4,1402.0 515.9,1400.7 517.4,1399.3 518.9,1397.9 520.4,1396.4 521.9,1394.9 523.4,1393.4 524.9,1391.9 526.4,1390.3 527.9,1388.7 529.4,1387.1 530.9,1385.5 532.4,1383.7 533.9,1382.0 535.4,1380.2 536.9,1378.3 538.4,1376.4 539.9,1374.4 541.4,1372.4 542.9,1370.3 544.4,1368.0 545.9,1365.7 547.4,1363.3 548.9,1360.8 550.4,1358.1 551.9,1355.4 553.4,1352.6 554.9,1349.7 556.4,1346.7 557.9,1343.5 559.4,1340.2 560.9,1336.7 562.4,1333.1 563.9,1329.4 565.4,1325.6 566.9,1321.6 568.4,1317.3 569.9,1312.8 571.4,1308.3 572.9,1304.0 574.4,1299.8 575.9,1295.7 577.4,1291.5 578.9,1287.3 580.4,1283.1 581.9,1278.9 583.4,1274.7 584.9,1270.7 586.4,1266.6 587.9,1262.2 589.4,1257.4 590.9,1252.4 592.4,1247.4 593.9,1242.5 595.4,1237.5 596.9,1232.8 598.4,1228.3 599.9,1223.8 601.4,1219.5 602.9,1215.2 604.4,1211.2 605.9,1207.6 607.4,1204.2 608.9,1201.2 610.4,1198.8 611.9,1196.8 613.4,1195.0 614.9,1193.7 616.4,1193.2 617.9,1192.9 619.4,1192.8 620.9,1192.7 622.4,1192.8 623.9,1193.1 625.4,1193.8 626.9,1194.6 628.4,1195.5 629.9,1196.8 631.4,1198.6 632.9,1200.8 634.4,1203.3 635.9,1206.7 637.4,1210.3 638.9,1213.6 640.4,1216.5 641.9,1219.5 643.4,1222.5 644.9,1225.7 646.4,1229.0 647.9,1232.3 649.4,1235.7 650.9,1239.1 652.4,1242.5 653.9,1245.8 655.4,1248.8 656.9,1251.5 658.4,1254.2 659.9,1256.8 661.4,1259.4 662.9,1262.0 664.4,1264.6 665.9,1267.0 667.4,1269.0 668.9,1270.9 670.4,1272.6 671.9,1274.3 673.4,1275.8 674.9,1277.4 676.4,1279.0 677.9,1280.6 679.4,1282.1 680.9,1283.5 682.4,1284.9 683.9,1286.2 685.4,1287.6 686.9,1288.9 688.4,1290.1 689.9,1291.3 691.4,1292.3 692.9,1293.3 694.4,1294.1 695.9,1295.0 697.4,1295.8 698.9,1296.5 700.4,1297.2 701.9,1297.7 703.4,1298.2 704.9,1298.4 706.4,1298.7 707.9,1298.9 709.4,1299.1 710.9,1299.3 712.4,1299.5 713.9,1299.7 715.4,1299.8 716.9,1299.9 718.4,1300.0 719.9,1300.0 721.4,1300.0 722.9,1300.0 724.4,1300.0 725.9,1299.9 727.4,1299.9 728.9,1299.8 730.4,1299.8 731.9,1299.7 733.4,1299.6 734.9,1299.5 736.4,1299.4 737.9,1299.3 739.4,1299.1 740.9,1298.7 742.4,1298.3 743.9,1297.8 745.4,1297.2 746.9,1296.6 748.4,1296.1 749.9,1295.5 751.4,1295.1 752.9,1294.7 754.4,1294.4 755.9,1294.1 757.4,1293.8 758.9,1293.6 760.4,1293.3 761.9,1293.1 763.4,1292.9 764.9,1292.7 766.4,1292.6 767.9,1292.4 769.4,1292.3 770.9,1292.3 772.4,1292.2 773.9,1292.2 775.4,1292.1 776.9,1292.1 778.4,1292.0 779.9,1292.0 781.4,1292.0 782.9,1292.0 784.4,1291.9 785.9,1291.9 787.4,1291.9 788.9,1291.8 790.4,1291.8 791.9,1291.7 793.4,1291.6 794.9,1291.6 796.4,1291.5 797.9,1291.3 799.4,1291.2 800.9,1291.0 802.4,1290.8 803.9,1290.5 805.4,1290.1 806.9,1289.5 808.4,1289.0 809.9,1288.3 811.4,1287.7 812.9,1287.1 814.4,1286.6 815.9,1286.1 817.4,1285.5 818.9,1285.0 820.4,1284.5 821.9,1283.9 823.4,1283.4 824.9,1282.9 826.4,1282.3 827.9,1281.8 829.4,1281.1 830.9,1280.5 832.4,1279.9 833.9,1279.4 835.4,1278.9 836.9,1278.5 838.4,1278.3 839.9,1278.0 841.4,1277.8 842.9,1277.6 844.4,1277.5 845.9,1277.3 847.4,1277.2 848.9,1277.2 850.4,1277.2 851.9,1277.2 853.4,1277.3 854.9,1277.4 856.4,1277.5 857.9,1277.7 859.4,1277.9 860.9,1278.3 862.4,1279.0 863.9,1279.9 865.4,1280.8 866.9,1281.8 868.4,1282.6 869.9,1283.5 871.4,1284.5 872.9,1285.5 874.4,1286.5 875.9,1287.5 877.4,1288.6 878.9,1289.8 880.4,1291.0 881.9,1292.2 883.4,1293.3 884.9,1294.4 886.4,1295.4 887.9,1296.3 889.4,1297.2 890.9,1298.1 892.4,1298.9 893.9,1299.8 895.4,1300.7 896.9,1301.5 898.4,1302.4 899.9,1303.3 901.4,1304.1 902.9,1304.9 904.4,1305.8 905.9,1306.7 907.4,1307.7 908.9,1308.7 910.4,1309.8 911.9,1311.0 913.4,1312.3 914.9,1313.7 916.4,1315.1 917.9,1316.6 919.4,1318.1 920.9,1319.8 922.4,1321.6 923.9,1323.4 925.4,1325.3 926.9,1327.2 928.4,1329.2 929.9,1331.2 931.4,1333.2 932.9,1335.2 934.4,1337.2 935.9,1339.2 937.4,1341.2 938.9,1343.1 940.4,1344.9 941.9,1346.6 943.4,1348.2 944.9,1349.8 946.4,1351.3 947.9,1352.7 949.4,1354.1 950.9,1355.5 952.4,1356.8 953.9,1358.1 955.4,1359.3 956.9,1360.5 958.4,1361.7 959.9,1362.8 961.4,1363.9 962.9,1364.9 964.4,1365.9 965.9,1366.9 967.4,1367.8 968.9,1368.7 970.4,1369.5 971.9,1370.4 973.4,1371.3 974.9,1372.2 976.4,1373.1 977.9,1374.0 979.4,1374.9 980.9,1375.8 982.4,1376.7 983.9,1377.6 985.4,1378.5 986.9,1379.3 988.4,1380.1 989.9,1380.9 991.4,1381.7 992.9,1382.5 994.4,1383.2 995.9,1383.9 997.4,1384.5 998.9,1385.1 1000.4,1385.7 1001.9,1386.2 1003.4,1386.7 1004.9,1387.2 1006.4,1387.6 1007.9,1388.0 1009.4,1388.3 1010.9,1388.5 1012.4,1388.8 1013.9,1389.0 1015.4,1389.2 1016.9,1389.3 1018.4,1389.5 1019.9,1389.6 1021.4,1389.6 1022.9,1389.6 1024.4,1389.6 1025.9,1389.5 1027.4,1389.4 1028.9,1389.3 1030.4,1389.2 1031.9,1389.1 1033.4,1389.0 1034.9,1388.8 1036.4,1388.7 1037.9,1388.6 1039.4,1388.4 1040.9,1388.3 1042.4,1388.1 1043.9,1387.8 1045.4,1387.6 1046.9,1387.3 1048.4,1387.0 1049.9,1386.7 1051.4,1386.4 1052.9,1386.1 1054.4,1385.9 1055.9,1385.7 1057.4,1385.5 1058.9,1385.4 1060.4,1385.4 1061.9,1385.5 1063.4,1385.7 1064.9,1386.0 1066.4,1386.3 1067.9,1386.6 1069.4,1386.8 1070.9,1387.0 1072.4,1387.0 1073.9,1387.0 1075.4,1387.0 1076.9,1387.0 1078.4,1386.9 1079.9,1386.9 1081.4,1386.9 1082.9,1386.8 1084.4,1386.8 1085.9,1386.7 1087.4,1386.7 1088.9,1386.6 1090.4,1386.6 1091.9,1386.5 1093.4,1386.4 1094.9,1386.3 1096.4,1386.2 1097.9,1385.9 1099.4,1385.6 1100.9,1385.3 1102.4,1384.9 1103.9,1384.6 1105.4,1384.3 1106.9,1384.0 1108.4,1383.8 1109.9,1383.7 1111.4,1383.7 1112.9,1383.7 1114.4,1383.7 1115.9,1383.7 1117.4,1383.7 1118.9,1383.7 1120.4,1383.7 1121.9,1383.7 1123.4,1383.8 1124.9,1384.1 1126.4,1384.5 1127.9,1384.9 1129.4,1385.4 1130.9,1385.9 1132.4,1386.3 1133.9,1386.8 1135.4,1387.3 1136.9,1387.9 1138.4,1388.4 1139.9,1388.9 1141.4,1389.4 1142.9,1389.6 1144.4,1389.8 1145.9,1389.8 1147.4,1389.9 1148.9,1390.0 1150.4,1390.1 1151.9,1390.1 1153.4,1390.2 1154.9,1390.2 1156.4,1390.3 1157.9,1390.3 1159.4,1390.3 1160.9,1390.3 1162.4,1390.2 1163.9,1390.1 1165.4,1390.0 1166.9,1389.8 1168.4,1389.6 1169.9,1389.4 1171.4,1389.1 1172.9,1388.8 1174.4,1388.3 1175.9,1387.7 1177.4,1387.0 1178.9,1386.3 1180.4,1385.6 1181.9,1384.9 1183.4,1384.2 1184.9,1383.5 1186.4,1382.7 1187.9,1382.0 1189.4,1381.2 1190.9,1380.4 1192.4,1379.7 1193.9,1378.9 1195.4,1378.2 1196.9,1377.4 1198.4,1376.7 1199.9,1376.0 1201.4,1375.2 1202.9,1374.4 1204.4,1373.6 1205.9,1372.8 1207.4,1371.9 1208.9,1371.0 1210.4,1370.1 1211.9,1369.2 1213.4,1368.2 1214.9,1367.3 1216.4,1366.4 1217.9,1365.5 1219.4,1364.6 1220.9,1363.7 1222.4,1362.7 1223.9,1361.8 1225.4,1360.9 1226.9,1360.0 1228.4,1359.1 1229.9,1358.1 1231.4,1357.2 1232.9,1356.2 1234.4,1355.3 1235.9,1354.5 1237.4,1353.8 1238.9,1353.1 1240.4,1352.5 1241.9,1351.9 1243.4,1351.4 1244.9,1350.8 1246.4,1350.3 1247.9,1349.6 1249.4,1349.0 1250.9,1348.3 1252.4,1347.6 1253.9,1346.9 1255.4,1346.1 1256.9,1345.3 1258.4,1344.5 1259.9,1343.5 1261.4,1342.4 1262.9,1341.1 1264.4,1339.7 1265.9,1338.6 1267.4,1337.7 1268.9,1337.1 1270.4,1336.6 1271.9,1336.2 1273.4,1335.9 1274.9,1335.8 1276.4,1336.0 1277.9,1336.5 1279.4,1337.0 1280.9,1337.6 1282.4,1337.9 1283.9,1338.0 1285.4,1337.7 1286.9,1337.2 1288.4,1335.3 1289.9,1332.2 1291.4,1329.8 1292.9,1328.3 1294.4,1327.2 1295.9,1327.0 1297.4,1328.3 1298.9,1330.6 1300.4,1333.4 1301.9,1337.1 1303.4,1338.6 1304.9,1338.9 1306.4,1339.2 1307.9,1339.3 1309.4,1339.5 1310.9,1339.6 1312.4,1339.8 1313.9,1340.0 1315.4,1340.4 1316.9,1341.0 1318.4,1341.7 1319.9,1342.6 1321.4,1343.5 1322.9,1344.3 1324.4,1345.1 1325.9,1345.8 1327.4,1346.5 1328.9,1347.2 1330.4,1347.8 1331.9,1348.4 1333.4,1348.8 1334.9,1349.2 1336.4,1349.4 1337.9,1349.7 1339.4,1349.9 1340.9,1350.1 1342.4,1350.2 1343.9,1350.3 1345.4,1350.4 1346.9,1350.4 1348.4,1350.3 1349.9,1350.1 1351.4,1349.9 1352.9,1349.5 1354.4,1349.1 1355.9,1348.6 1357.4,1347.2 1358.9,1345.1 1360.4,1342.6 1361.9,1340.2 1363.4,1337.3 1364.9,1334.6 1366.4,1332.7 1367.9,1331.1 1369.4,1330.0 1370.9,1329.8 1372.4,1330.2 1373.9,1330.9 1375.4,1331.8 1376.9,1334.4 1378.4,1337.6 1379.9,1339.8 1381.4,1341.5 1382.9,1343.0 1384.4,1343.9 1385.9,1344.1 1387.4,1344.1 1388.9,1344.1 1390.4,1344.1 1391.9,1344.1 1393.4,1343.8 1394.9,1342.7 1396.4,1341.1 1397.9,1338.9 1399.4,1334.1 1400.9,1328.3 1402.4,1323.2 1403.9,1320.3 1405.4,1318.9 1406.9,1318.3 1408.4,1319.4 1409.9,1322.5 1411.4,1327.8 1412.9,1334.5 1414.4,1337.5 1415.9,1339.7 1417.4,1341.4 1418.9,1342.7 1420.4,1343.8 1421.9,1344.7 1423.4,1345.5 1424.9,1346.2 1426.4,1346.9 1427.9,1347.4 1429.4,1348.0 1430.9,1348.5 1432.4,1348.9 1433.9,1349.3 1435.4,1349.7 1436.9,1350.1 1438.4,1350.5 1439.9,1350.8 1441.4,1351.1 1442.9,1351.5 1444.4,1351.8 1445.9,1352.1 1447.4,1352.3 1448.9,1352.6 1450.4,1352.9 1451.9,1353.1 1453.4,1353.3 1454.9,1353.5 1456.4,1353.7 1457.9,1353.8 1459.4,1354.0 1460.9,1354.1 1462.4,1354.3 1463.9,1354.4 1465.4,1354.6 1466.9,1354.7 1468.4,1354.8 1469.9,1354.9 1471.4,1354.9 1472.9,1355.0 1474.4,1355.0 1475.9,1355.0 1477.4,1355.0 1478.9,1354.9 1480.4,1354.8 1481.9,1354.8 1483.4,1354.7 1484.9,1354.5 1486.4,1354.4 1487.9,1354.3 1489.4,1354.1 1490.9,1353.9 1492.4,1353.7 1493.9,1353.3 1495.4,1352.7 1496.9,1351.9 1498.4,1351.0 1499.9,1350.1 1501.4,1349.1 1502.9,1348.3 1504.4,1347.4 1505.9,1346.5 1507.4,1345.6 1508.9,1344.6 1510.4,1343.7 1511.9,1342.8 1513.4,1341.9 1514.9,1341.1 1516.4,1340.3 1517.9,1339.4 1519.4,1338.5 1520.9,1337.7 1522.4,1336.9 1523.9,1336.4 1525.4,1336.1 1526.9,1336.1 1528.4,1336.2 1529.9,1336.4 1531.4,1336.7 1532.9,1337.0 1534.4,1337.5 1535.9,1338.2 1537.4,1340.1 1538.9,1341.0 1540.4,1341.7 1541.9,1342.2 1543.4,1342.6 1544.9,1342.8 1546.4,1342.9 1547.9,1342.6 1549.4,1342.0 1550.9,1341.4 1552.4,1340.8 1553.9,1340.3 1555.4,1339.8 1556.9,1339.3 1558.4,1339.0 1559.9,1338.9 1561.4,1339.2 1562.9,1339.9 1564.4,1340.9 1565.9,1341.9 1567.4,1342.9 1568.9,1344.1 1570.4,1345.4 1571.9,1346.8 1573.4,1348.2 1574.9,1349.6 1576.4,1350.9 1577.9,1352.2 1579.4,1353.5 1580.9,1354.8 1582.4,1356.1 1583.9,1357.4 1585.4,1358.8 1586.9,1360.1 1588.4,1361.6 1589.9,1363.0 1591.4,1364.3 1592.9,1365.6 1594.4,1366.6 1595.9,1367.5 1597.4,1368.4 1598.9,1369.2 1600.4,1369.9 1601.9,1370.6 1603.4,1371.0 1604.9,1371.4 1606.4,1371.8 1607.9,1372.2 1609.4,1372.4 1610.9,1372.6 1612.4,1372.7 1613.9,1372.6 1615.4,1372.3 1616.9,1371.9 1618.4,1371.5 1619.9,1371.0 1621.4,1370.5 1622.9,1370.0 1624.4,1369.4 1625.9,1368.8 1627.4,1368.2 1628.9,1367.4 1630.4,1366.6 1631.9,1365.5 1633.4,1363.9 1634.9,1362.1 1636.4,1360.5 1637.9,1359.3 1639.4,1358.9 1640.9,1358.7 1642.4,1358.6 1643.9,1358.5 1645.4,1358.4 1646.9,1358.3 1648.4,1358.1 1649.9,1357.9 1651.4,1356.8 1652.9,1354.3 1654.4,1351.4 1655.9,1349.2 1657.4,1347.8 1658.9,1346.5 1660.4,1345.4 1661.9,1344.7 1663.4,1344.6 1664.9,1344.7 1666.4,1344.8 1667.9,1345.0 1669.4,1345.2 1670.9,1345.5 1672.4,1346.2 1673.9,1347.1 1675.4,1348.2 1676.9,1349.2 1678.4,1350.2 1679.9,1351.0 1681.4,1352.0 1682.9,1353.0 1684.4,1353.9 1685.9,1354.6 1687.4,1355.0 1688.9,1355.0 1690.4,1355.0 1691.9,1355.0 1693.4,1355.0 1694.9,1355.0 1696.4,1355.0 1697.9,1355.0 1699.4,1355.0 1700.9,1355.0 1702.4,1355.0 1703.9,1354.8 1705.4,1354.4 1706.9,1353.8 1708.4,1353.2 1709.9,1352.5 1711.4,1351.9 1712.9,1351.0 1714.4,1350.0 1715.9,1348.9 1717.4,1347.7 1718.9,1346.5 1720.4,1345.3 1721.9,1344.3 1723.4,1343.5 1724.9,1342.6 1726.4,1341.8 1727.9,1341.0 1729.4,1340.3 1730.9,1339.7 1732.4,1339.2 1733.9,1338.9 1735.4,1338.6 1736.9,1338.3 1738.4,1338.1 1739.9,1337.9 1741.4,1337.6 1742.9,1337.3 1744.4,1336.9 1745.9,1336.3 1747.4,1335.5 1748.9,1334.4 1750.4,1333.1 1751.9,1331.8 1753.4,1330.5 1754.9,1329.4 1756.4,1328.3 1757.9,1327.2 1759.4,1326.1 1760.9,1325.0 1762.4,1324.0 1763.9,1323.2 1765.4,1322.6 1766.9,1322.0 1768.4,1321.4 1769.9,1320.9 1771.4,1320.5 1772.9,1320.2 1774.4,1320.0 1775.9,1320.0 1777.4,1320.0 1778.9,1320.1 1780.4,1320.2 1781.9,1320.3 1783.4,1320.5 1784.9,1321.0 1786.4,1322.5 1787.9,1323.8 1789.4,1324.9 1790.9,1326.0 1792.4,1327.0 1793.9,1328.0 1795.4,1328.8 1796.9,1329.3 1798.4,1329.5 1799.9,1329.5 1801.4,1329.4 1802.9,1329.4 1804.4,1329.3 1805.9,1329.2 1807.4,1329.0 1808.9,1328.8 1810.4,1328.0 1811.9,1326.7 1813.4,1325.2 1814.9,1323.6 1816.4,1321.5 1817.9,1319.2 1819.4,1316.8 1820.9,1314.4 1822.4,1311.9 1823.9,1309.5 1825.4,1307.0 1826.9,1304.6 1828.4,1302.2 1829.9,1299.8 1831.4,1297.4 1832.9,1295.0 1834.4,1292.6 1835.9,1290.2 1837.4,1287.8 1838.9,1285.4 1840.4,1282.9 1841.9,1280.4 1843.4,1278.1 1844.9,1276.0 1846.4,1273.9 1847.9,1272.0 1849.4,1270.4 1850.9,1269.3 1852.4,1268.5 1853.9,1267.7 1855.4,1267.1 1856.9,1266.6 1858.4,1266.1 1859.9,1265.7 1861.4,1265.4 1862.9,1265.0 1864.4,1264.6 1865.9,1264.3 1867.4,1264.1 1868.9,1263.8 1870.4,1263.7 1871.9,1263.6 1873.4,1263.6 1874.9,1263.6 1876.4,1263.7 1877.9,1263.7 1879.4,1263.8 1880.9,1263.9 1882.4,1264.0 1883.9,1264.1 1885.4,1264.3 1886.9,1264.6 1888.4,1265.0 1889.9,1265.6 1891.4,1266.3 1892.9,1267.0 1894.4,1267.9 1895.9,1269.2 1897.4,1270.7 1898.9,1272.2 1900.4,1273.7 1901.9,1274.9 1903.4,1276.0 1904.9,1277.1 1906.4,1278.2 1907.9,1279.4 1909.4,1280.7 1910.9,1282.2 1912.4,1283.9 1913.9,1285.6 1915.4,1287.5 1916.9,1289.3 1918.4,1291.0 1919.9,1292.7 1921.4,1294.4 1922.9,1296.1 1924.4,1297.8 1925.9,1299.5 1927.4,1301.4 1928.9,1303.2 1930.4,1305.1 1931.9,1307.0 1933.4,1309.0 1934.9,1311.0 1936.4,1313.3 1937.9,1316.0 1939.4,1318.7 1940.9,1321.0 1942.4,1322.5 1943.9,1323.3 1945.4,1323.9 1946.9,1324.4 1948.4,1324.6 1949.9,1324.5 1951.4,1324.2 1952.9,1323.7 1954.4,1323.1 1955.9,1322.4 1957.4,1321.9 1958.9,1321.5 1960.4,1321.2 1961.9,1321.0 1963.4,1320.8 1964.9,1320.6 1966.4,1320.2 1967.9,1319.4 1969.4,1318.0 1970.9,1316.3 1972.4,1314.4 1973.9,1312.5 1975.4,1310.4 1976.9,1307.9 1978.4,1305.3 1979.9,1302.6 1981.4,1299.7 1982.9,1296.5 1984.4,1293.4 1985.9,1290.7 1987.4,1288.3 1988.9,1286.1 1990.4,1284.3 1991.9,1282.9 1993.4,1281.7 1994.9,1281.0 1996.4,1280.9 1997.9,1281.6 1999.4,1282.8 2000.9,1284.2 2002.4,1285.5 2003.9,1286.9 2005.4,1288.3 2006.9,1289.8 2008.4,1291.3 2009.9,1292.6 2011.4,1293.8 2012.9,1294.9 2014.4,1296.0 2015.9,1297.0 2017.4,1297.9 2018.9,1298.9 2020.4,1299.9 2021.9,1300.9 2023.4,1301.8 2024.9,1302.7 2026.4,1303.6 2027.9,1304.6 2029.4,1305.5 2030.9,1306.6 2032.4,1307.7 2033.9,1308.9 2035.4,1310.2 2036.9,1311.6 2038.4,1313.1 2039.9,1314.6 2041.4,1316.2 2042.9,1317.8 2044.4,1319.5 2045.9,1321.2 2047.4,1323.0 2048.9,1324.9 2050.4,1326.8 2051.9,1328.8 2053.4,1330.8 2054.9,1332.9 2056.4,1334.9 2057.9,1336.9 2059.4,1338.9 2060.9,1341.0 2062.4,1343.1 2063.9,1345.1 2065.4,1346.9 2066.9,1348.6 2068.4,1350.2 2069.9,1351.7 2071.4,1353.1 2072.9,1354.6 2074.4,1356.0 2075.9,1357.5 2077.4,1359.1 2078.9,1360.6 2080.4,1362.2 2081.9,1363.7 2083.4,1365.2 2084.9,1366.6 2086.4,1367.8 2087.9,1369.0 2089.4,1370.2 2090.9,1371.3 2092.4,1372.4 2093.9,1373.4 2095.4,1374.2 2096.9,1375.0 2098.4,1375.6 2099.9,1376.0 2101.4,1376.5 2102.9,1377.0 2104.4,1377.4 2105.9,1377.8 2107.4,1378.1 2108.9,1378.4 2110.4,1378.6 2111.9,1378.7 2113.4,1378.8 2114.9,1378.8 2116.4,1378.6 2117.9,1378.4 2119.4,1378.1 2120.9,1377.8 2122.4,1377.4 2123.9,1376.9 2125.4,1376.1 2126.9,1374.7 2128.4,1372.9 2129.9,1370.9 2131.4,1368.9 2132.9,1366.9 2134.4,1364.8 2135.9,1362.5 2137.4,1360.2 2138.9,1357.8 2140.4,1355.6 2141.9,1353.2 2143.4,1350.8 2144.9,1348.6 2146.4,1346.5 2147.9,1344.6 2149.4,1342.9 2150.9,1341.3 2152.4,1339.9 2153.9,1338.5 2155.4,1337.4 2156.9,1336.2 2158.4,1335.1 2159.9,1334.1 2161.4,1333.2 2162.9,1332.4 2164.4,1331.7 2165.9,1331.1 2167.4,1330.5 2168.9,1330.0 2170.4,1329.5 2171.9,1329.2 2173.4,1329.0 2174.9,1329.0 2176.4,1329.2 2177.9,1329.4 2179.4,1329.7 2180.9,1330.1 2182.4,1330.5 2183.9,1331.4 2185.4,1332.5 2186.9,1333.2 2188.4,1333.4 2189.9,1333.4 2191.4,1333.3 2192.9,1333.2 2194.4,1333.1 2195.9,1333.0 2197.4,1332.9 2198.9,1332.6 2200.4,1332.0 2201.9,1331.1 2203.4,1329.9 2204.9,1328.5 2206.4,1327.1 2207.9,1325.1 2209.4,1322.7 2210.9,1320.2 2212.4,1317.7 2213.9,1315.7 2215.4,1313.9 2216.9,1312.3 2218.4,1310.7 2219.9,1309.2 2221.4,1307.6 2222.9,1305.7 2224.4,1303.8 2225.9,1302.1 2227.4,1301.0 2228.9,1300.2 2230.4,1299.6 2231.9,1299.2 2233.4,1298.9 2234.9,1299.1 2236.4,1299.8 2237.9,1301.0 2239.4,1302.5 2240.9,1304.1 2242.4,1306.7 2243.9,1309.9 2245.4,1313.4 2246.9,1316.6 2248.4,1319.7 2249.9,1322.8 2251.4,1325.9 2252.9,1328.9 2254.4,1331.7 2255.9,1334.4 2257.4,1336.9 2258.9,1339.4 2260.4,1341.8 2261.9,1344.1 2263.4,1346.5 2264.9,1348.8 2266.4,1351.0 2267.9,1353.2 2269.4,1355.2 2270.9,1357.1 2272.4,1358.8 2273.9,1360.4 2275.4,1362.0 2276.9,1363.5 2278.4,1364.9 2279.9,1366.3 2281.4,1367.6 2282.9,1368.9 2284.4,1370.3 2285.9,1371.6 2287.4,1372.9 2288.9,1374.2 2290.4,1375.4 2291.9,1376.6 2293.4,1377.7 2294.9,1378.6 2296.4,1379.5 2297.9,1380.3 2299.4,1381.1 2300.9,1381.8 2302.4,1382.4 2303.9,1383.1 2305.4,1383.7 2306.9,1384.3 2308.4,1385.0 2309.9,1385.6 2311.4,1386.2 2312.9,1386.9 2314.4,1387.5 2315.9,1388.2 2317.4,1388.8 2318.9,1389.4 2320.4,1390.0 2321.9,1390.6 2323.4,1391.2 2324.9,1391.8 2325.8,1392.2" stroke="#000000" stroke-width="3.2"/>
</g>
<g stroke="#000" stroke-width="5.6" fill="none" stroke-linecap="butt">
<line x1="293.5" y1="40.2" x2="293.5" y2="1449.3"/>
<line x1="290.7" y1="1446.5" x2="2329.0" y2="1446.5"/>
<line x1="262" y1="1446.5" x2="293.5" y2="1446.5"/>
<line x1="277" y1="1382.7" x2="293.5" y2="1382.7"/>
<line x1="262" y1="1318.9" x2="293.5" y2="1318.9"/>
<line x1="277" y1="1255.1" x2="293.5" y2="1255.1"/>
<line x1="262" y1="1191.3" x2="293.5" y2="1191.3"/>
<line x1="277" y1="1127.5" x2="293.5" y2="1127.5"/>
<line x1="262" y1="1063.7" x2="293.5" y2="1063.7"/>
<line x1="277" y1="999.9" x2="293.5" y2="999.9"/>
<line x1="262" y1="936.1" x2="293.5" y2="936.1"/>
<line x1="277" y1="872.3" x2="293.5" y2="872.3"/>
<line x1="262" y1="808.5" x2="293.5" y2="808.5"/>
<line x1="277" y1="744.8" x2="293.5" y2="744.8"/>
<line x1="262" y1="681.0" x2="293.5" y2="681.0"/>
<line x1="277" y1="617.2" x2="293.5" y2="617.2"/>
<line x1="262" y1="553.4" x2="293.5" y2="553.4"/>
<line x1="277" y1="489.6" x2="293.5" y2="489.6"/>
<line x1="262" y1="425.8" x2="293.5" y2="425.8"/>
<line x1="277" y1="362.0" x2="293.5" y2="362.0"/>
<line x1="262" y1="298.2" x2="293.5" y2="298.2"/>
<line x1="277" y1="234.4" x2="293.5" y2="234.4"/>
<line x1="262" y1="170.6" x2="293.5" y2="170.6"/>
<line x1="277" y1="106.8" x2="293.5" y2="106.8"/>
<line x1="262" y1="43.0" x2="293.5" y2="43.0"/>
<line x1="293.5" y1="1446.5" x2="293.5" y2="1477"/>
<line x1="481.8" y1="1446.5" x2="481.8" y2="1462"/>
<line x1="670.1" y1="1446.5" x2="670.1" y2="1477"/>
<line x1="858.4" y1="1446.5" x2="858.4" y2="1462"/>
<line x1="1046.7" y1="1446.5" x2="1046.7" y2="1477"/>
<line x1="1235.0" y1="1446.5" x2="1235.0" y2="1462"/>
<line x1="1423.3" y1="1446.5" x2="1423.3" y2="1477"/>
<line x1="1611.6" y1="1446.5" x2="1611.6" y2="1462"/>
<line x1="1799.9" y1="1446.5" x2="1799.9" y2="1477"/>
<line x1="1988.2" y1="1446.5" x2="1988.2" y2="1462"/>
<line x1="2176.5" y1="1446.5" x2="2176.5" y2="1477"/>
</g>
<g font-size="62" text-anchor="end">
<text transform="translate(245,1465.3) scale(1,1.03)">0.0</text>
<text transform="translate(245,1337.7) scale(1,1.03)">0.2</text>
<text transform="translate(245,1210.1) scale(1,1.03)">0.4</text>
<text transform="translate(245,1082.5) scale(1,1.03)">0.6</text>
<text transform="translate(245,954.9) scale(1,1.03)">0.8</text>
<text transform="translate(245,827.3) scale(1,1.03)">1.0</text>
<text transform="translate(245,699.8) scale(1,1.03)">1.2</text>
<text transform="translate(245,572.2) scale(1,1.03)">1.4</text>
<text transform="translate(245,444.6) scale(1,1.03)">1.6</text>
<text transform="translate(245,317.0) scale(1,1.03)">1.8</text>
<text transform="translate(245,189.4) scale(1,1.03)">2.0</text>
<text transform="translate(245,61.8) scale(1,1.03)">2.2</text>
</g>
<g font-size="62" text-anchor="middle">
<text x="294.0" y="1541.5">3750</text>
<text x="670.6" y="1541.5">3500</text>
<text x="1047.2" y="1541.5">3250</text>
<text x="1423.8" y="1541.5">3000</text>
<text x="1800.4" y="1541.5">2750</text>
<text x="2177.0" y="1541.5">2500</text>
</g>
<text font-size="76" text-anchor="middle" transform="translate(88,794) rotate(-90)">Absorbance (a.u.)</text>
<text font-size="76" x="980" y="1672">Wavenumber (cm<tspan font-size="44" dy="-38">-1</tspan><tspan dy="38">)</tspan></text>
<line x1="1549" y1="82.2" x2="1661" y2="82.2" stroke="#000000" stroke-width="3.4"/>
<text font-size="48.3" x="1672" y="98.5"><tspan>Ciprofloxacin</tspan></text>
<line x1="1549" y1="140.9" x2="1661" y2="140.9" stroke="#0000ff" stroke-width="3.4"/>
<text font-size="48.3" x="1672" y="157.2"><tspan>MWCNT-COOH-Cip</tspan></text>
<line x1="1549" y1="200.7" x2="1661" y2="200.7" stroke="#ff0000" stroke-width="3.6"/>
<text font-size="48.3" x="1672" y="216.6"><tspan>MWCNT-COOH-Fe</tspan><tspan font-size="28" dx="2" dy="17.5">3</tspan><tspan dx="1" dy="-17.5">O</tspan><tspan font-size="28" dx="0" dy="17.5">4</tspan><tspan dx="1" dy="-17.5">-Cip</tspan></text>
<line x1="1549" y1="274.2" x2="1661" y2="274.2" stroke="#008080" stroke-width="4.6"/>
<text font-size="48.3" x="1672" y="289.3"><tspan>MWCNT-COOH-Fe</tspan><tspan font-size="28" dx="2" dy="17.5">3</tspan><tspan dx="1" dy="-17.5">O</tspan><tspan font-size="28" dx="0" dy="17.5">4</tspan><tspan dx="1" dy="-17.5">-CuO-Cip</tspan></text>
<line x1="1549" y1="347.6" x2="1661" y2="347.6" stroke="#808080" stroke-width="4.4"/>
<text font-size="48.3" x="1672" y="363.5"><tspan>MWCNT-COOH-Fe</tspan><tspan font-size="28" dx="2" dy="17.5">3</tspan><tspan dx="1" dy="-17.5">O</tspan><tspan font-size="28" dx="0" dy="17.5">4</tspan><tspan dx="1" dy="-17.5">-NiO-Cip</tspan></text>
</svg>
</body></html>
